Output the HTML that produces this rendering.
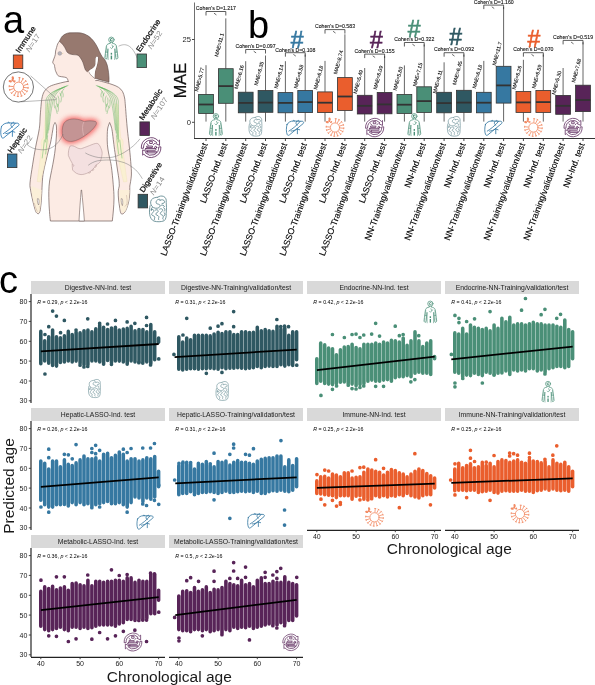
<!DOCTYPE html><html><head><meta charset="utf-8"><style>
html,body{margin:0;padding:0;background:#fff;}
svg{display:block;will-change:transform;}
text{font-family:"Liberation Sans", sans-serif;}
</style></head><body>
<svg width="595" height="685" viewBox="0 0 595 685">
<defs>
<symbol id="i-virus" viewBox="-10 -10 20 20" overflow="visible">
 <g fill="none" stroke="currentColor" stroke-width="0.8" stroke-linecap="round">
  <circle r="4.6"/>
  <path d="M5.18 0.45L8.77 0.77M8.71 1.36L8.82 0.17M4.61 2.40L7.81 4.06M7.53 4.60L8.08 3.53M3.34 3.98L5.66 6.74M5.20 7.13L6.12 6.36M1.56 4.96L2.65 8.39M2.07 8.57L3.22 8.21M-0.45 5.18L-0.77 8.77M-1.36 8.71L-0.17 8.82M-2.40 4.61L-4.06 7.81M-4.60 7.53L-3.53 8.08M-3.98 3.34L-6.74 5.66M-7.13 5.20L-6.36 6.12M-4.96 1.56L-8.39 2.65M-8.57 2.07L-8.21 3.22M-5.18 -0.45L-8.77 -0.77M-8.71 -1.36L-8.82 -0.17M0.45 -5.18L0.77 -8.77M1.36 -8.71L0.17 -8.82M2.40 -4.61L4.06 -7.81M4.60 -7.53L3.53 -8.08M3.98 -3.34L6.74 -5.66M7.13 -5.20L6.36 -6.12M4.96 -1.56L8.39 -2.65M8.57 -2.07L8.21 -3.22"/>
  <path d="M-4 -4.6L-5.6 -6.4" stroke-width="1"/>
  <g fill="currentColor" stroke="none"><ellipse cx="-5.4" cy="-8.4" rx="1.1" ry="1.6" transform="rotate(-15 -5.4 -8.4)"/><ellipse cx="-7.8" cy="-5.4" rx="1.6" ry="1.1" transform="rotate(20 -7.8 -5.4)"/><circle cx="-5.8" cy="-6.4" r="1"/><circle cx="-3.6" cy="-5.6" r="0.8"/></g>
 </g>
</symbol>
<symbol id="i-met" viewBox="-11 -11 22 22" overflow="visible">
 <g fill="none" stroke="currentColor" stroke-width="0.85" stroke-linejoin="round" stroke-linecap="round">
  <path d="M-10.29 0.36A10.3 10.3 0 0 1 7.65 -6.89L8.84 -7.96L8.84 -2.37L4.76 -4.28L5.95 -5.35A8.0 8.0 0 0 0 -8.00 0.28Z"/>
  <path d="M10.29 -0.36A10.3 10.3 0 0 1 -7.65 6.89L-8.84 7.96L-8.84 2.37L-4.76 4.28L-5.95 5.35A8.0 8.0 0 0 0 8.00 -0.28Z"/>
  <path d="M-5.4 0.9H4.2A0.9 0.9 0 0 1 4.2 2.7H-5.4A0.9 0.9 0 0 1 -5.4 0.9Z"/>
  <path d="M-3.6 3.9H5A0.8 0.8 0 0 1 5 5.5H-3.6A0.8 0.8 0 0 1 -3.6 3.9Z"/>
  <path d="M-4.2 -1.6H1.4V-0.2H-4.2Z M-1.1 -6.6H1.3V-4.3H-1.1Z M-4.6 -4.2L-2.8 -2.6M2.4 -3L3.6 -4.4"/>
  <circle cx="4.8" cy="-0.2" r="1.1"/>
 </g>
</symbol>
<symbol id="i-human" viewBox="0 0 16 26" overflow="visible">
 <g fill="none" stroke="currentColor" stroke-width="0.8" stroke-linejoin="round" stroke-linecap="round">
  <circle cx="8" cy="3.5" r="2.9"/>
  <path d="M8.9 2.5A1.25 1.25 0 1 0 8.9 4.5" stroke-width="1.1"/>
  <path d="M6.9 6.4V7.3C4.8 7.6 3.2 8.2 2.7 10C2.2 12.6 1.8 15.6 1.5 18.6L1 22.6C1.2 23.6 2 24.2 2.8 24L3.4 22.4L3.8 18L4.3 13.4"/>
  <path d="M9.1 6.4V7.3C11.2 7.6 12.8 8.2 13.3 10C13.8 12.6 14.2 15.6 14.5 18.6L15 22.6C14.8 23.6 14 24.2 13.2 24L12.6 22.4L12.2 18L11.7 13.4"/>
  <path d="M4.3 13.4L4.5 24.6M11.7 13.4L11.5 24.6M2.2 16.6L3.9 16.8M13.8 16.6L12.1 16.8" stroke-width="0.6"/>
  <path d="M8.6 9L9.6 11.2L8.2 13L7 11.8M9.6 11.2L10.4 10.2" stroke-width="0.65"/>
  <path d="M3 11L2.4 17M13 11L13.6 17M2 19L1.8 22M14 19L14.2 22" stroke-width="0.45"/>
  <rect x="7.25" y="17.4" width="1.5" height="1.9" fill="currentColor" stroke="none"/>
  <rect x="7.25" y="20.4" width="1.5" height="4" fill="currentColor" stroke="none"/>
 </g>
</symbol>
<symbol id="i-liver" viewBox="0 0 20 18" overflow="visible">
 <g fill="none" stroke="currentColor" stroke-width="0.9" stroke-linejoin="round" stroke-linecap="round">
  <path d="M1.3 5.5C2.6 3.2 5 2 8 1.9L17.6 2.2C18.8 2.6 19.2 3.6 18.4 4.6L3.8 16.6C2.8 17.4 1.8 17.2 1.4 16.2C0.3 13.6 0.2 9 1.3 5.5Z"/>
  <path d="M11.4 2.1C10.2 3.6 10.4 5.8 12.2 6.2M15.2 2.3C13.6 4.4 11.2 6.6 8.8 8.6C6.8 10.2 4.8 11.6 3.2 12.6"/>
  <path d="M7.6 1.9C7.6 0.8 9.2 0.8 9.2 1.9M12.4 2C12.4 0.9 14 0.9 14 2"/>
  <path d="M12.2 9.8V15.4M5.6 12.6C7.6 12.4 9.6 11.8 11.4 10.6M12.2 10.4L14.6 11.2"/>
 </g>
</symbol>
<symbol id="i-gut" viewBox="0 0 18 26.5" overflow="visible">
 <g fill="none" stroke="currentColor" stroke-width="0.8" stroke-linejoin="round" stroke-linecap="round">
  <path d="M8.6 1.4C10 0.2 12.5 -0.2 14.5 0.6C16.8 1.6 17.6 4 17.2 6.5C17.6 10 17.6 14 17.2 18C17.4 21 16.8 24.2 15 25.4C12 26.6 8 26.6 5 25.8C2.5 25 0.8 22 0.4 19C0 16 0.2 12 0.8 10"/>
  <path d="M8.6 1.4C6 1.6 3.6 2.2 2.2 4C0.8 6 1.2 9 2.8 10.8C4.6 12.8 7.6 13.2 9.8 12C11 11.2 11.4 9.8 10.4 9C9 8 7.4 8.6 7 7.2C6.6 5.6 7.6 4 9.6 3.6C10.6 3.2 11.4 3.8 11 4.6"/>
  <path d="M11 4.5C12.5 3.5 15 4 15.5 5.5C16 7 14.5 8 13 7.8M12 9.5C13.5 9 15 9.6 15.4 11"/>
  <path d="M2 14C3.5 13 5 14.5 4.5 16C4 17.5 2 17.5 2.4 19C2.8 20.5 5 20 5.6 21.5C6 23 4 24 5.5 24.6"/>
  <path d="M6 14.5C7.5 13.5 9.5 14.5 9 16C8.5 17.5 6.5 17 6.6 18.6C6.8 20 9 19.6 9.6 21C10.2 22.4 8.4 23.6 9.6 24.4"/>
  <path d="M10.5 13.5C12 12.5 14 13.5 13.6 15C13.2 16.5 11 16.4 11.2 18C11.4 19.6 13.8 19.2 14.2 20.6C14.6 22 12.8 23.2 14 24"/>
  <path d="M14.5 12C16 12.5 16.4 14.5 15.4 15.6M15 17C16.4 17.5 16.4 19.6 15.2 20.4M3 11.8C2 12.8 1.6 14 2 15"/>
 </g>
</symbol>
</defs>
<rect x="31" y="281" width="134" height="13" fill="#D9D9D9"/>
<text x="98" y="290.2" font-size="6.8" fill="#1A1A1A" text-anchor="middle">Digestive-NN-Ind. test</text>
<text x="37.3" y="304.3" font-size="5.3" fill="#000"><tspan font-style="italic">R</tspan> = 0.29, <tspan font-style="italic">p</tspan> &lt; 2.2e-16</text>
<path d="M40.8 331.4V363.8M44.7 340.8V360.9M48.7 336.8V363.2M52.6 330V365.4M56.5 336.8V366.1M60.4 337.9V362.5M64.4 335.9V362M68.3 331.4V360.9M72.2 334.5V362M76.1 332.3V361.1M80.1 332.9V363.2M84 330.7V364.7M87.9 330V364.7M91.9 331.8V360.9M95.8 328.7V360.9M99.7 325.1V362M103.6 327.3V364.3M107.6 329.6V360.5M111.5 328V362.7M115.4 327.3V360.9M119.3 330V361.1M123.3 329.1V362M127.2 328.4V364.3M131.1 326.2V360.9M135 330.7V362M139 329.6V362M142.9 329.6V361.6M146.8 331.8V362M150.8 324.6V363.4M154.7 331.8V359.8M158.6 338.1V342.2" stroke="#2F5862" stroke-width="3.56" stroke-linecap="round" fill="none"/>
<path d="M43.1 334.5a1.85 1.85 0 1 0 3.7 0a1.85 1.85 0 1 0 -3.7 0zM43.1 374a1.85 1.85 0 1 0 3.7 0a1.85 1.85 0 1 0 -3.7 0zM46.9 326.7a1.85 1.85 0 1 0 3.7 0a1.85 1.85 0 1 0 -3.7 0zM50.8 311.1a1.85 1.85 0 1 0 3.7 0a1.85 1.85 0 1 0 -3.7 0zM54.6 316.1a1.85 1.85 0 1 0 3.7 0a1.85 1.85 0 1 0 -3.7 0zM58.7 332.7a1.85 1.85 0 1 0 3.7 0a1.85 1.85 0 1 0 -3.7 0zM62.5 320.4a1.85 1.85 0 1 0 3.7 0a1.85 1.85 0 1 0 -3.7 0zM85.9 318.8a1.85 1.85 0 1 0 3.7 0a1.85 1.85 0 1 0 -3.7 0zM113.6 320.4a1.85 1.85 0 1 0 3.7 0a1.85 1.85 0 1 0 -3.7 0zM125.3 321.9a1.85 1.85 0 1 0 3.7 0a1.85 1.85 0 1 0 -3.7 0zM144.7 317.4a1.85 1.85 0 1 0 3.7 0a1.85 1.85 0 1 0 -3.7 0zM78.2 365.2a1.85 1.85 0 1 0 3.7 0a1.85 1.85 0 1 0 -3.7 0zM82.1 367a1.85 1.85 0 1 0 3.7 0a1.85 1.85 0 1 0 -3.7 0zM85.9 366.5a1.85 1.85 0 1 0 3.7 0a1.85 1.85 0 1 0 -3.7 0zM109.6 364.3a1.85 1.85 0 1 0 3.7 0a1.85 1.85 0 1 0 -3.7 0zM137 362.7a1.85 1.85 0 1 0 3.7 0a1.85 1.85 0 1 0 -3.7 0zM140.9 363.1a1.85 1.85 0 1 0 3.7 0a1.85 1.85 0 1 0 -3.7 0zM148.7 364.9a1.85 1.85 0 1 0 3.7 0a1.85 1.85 0 1 0 -3.7 0zM156.9 358.9a1.85 1.85 0 1 0 3.7 0a1.85 1.85 0 1 0 -3.7 0zM74.2 330a1.85 1.85 0 1 0 3.7 0a1.85 1.85 0 1 0 -3.7 0zM97.8 323.3a1.85 1.85 0 1 0 3.7 0a1.85 1.85 0 1 0 -3.7 0zM105.7 324a1.85 1.85 0 1 0 3.7 0a1.85 1.85 0 1 0 -3.7 0zM133 323.3a1.85 1.85 0 1 0 3.7 0a1.85 1.85 0 1 0 -3.7 0zM144.7 325.5a1.85 1.85 0 1 0 3.7 0a1.85 1.85 0 1 0 -3.7 0z" fill="#2F5862"/>
<line x1="40.9" y1="351.4" x2="158.7" y2="344" stroke="#000" stroke-width="1.8"/>
<line x1="31" y1="294" x2="31" y2="403" stroke="#111" stroke-width="1.1"/>
<line x1="28.8" y1="400.8" x2="31" y2="400.8" stroke="#333" stroke-width="0.9"/>
<text x="27.3" y="403.3" font-size="7" fill="#222" text-anchor="end">30</text>
<line x1="28.8" y1="381" x2="31" y2="381" stroke="#333" stroke-width="0.9"/>
<text x="27.3" y="383.5" font-size="7" fill="#222" text-anchor="end">40</text>
<line x1="28.8" y1="361.1" x2="31" y2="361.1" stroke="#333" stroke-width="0.9"/>
<text x="27.3" y="363.6" font-size="7" fill="#222" text-anchor="end">50</text>
<line x1="28.8" y1="341.3" x2="31" y2="341.3" stroke="#333" stroke-width="0.9"/>
<text x="27.3" y="343.8" font-size="7" fill="#222" text-anchor="end">60</text>
<line x1="28.8" y1="321.4" x2="31" y2="321.4" stroke="#333" stroke-width="0.9"/>
<text x="27.3" y="323.9" font-size="7" fill="#222" text-anchor="end">70</text>
<line x1="28.8" y1="301.6" x2="31" y2="301.6" stroke="#333" stroke-width="0.9"/>
<text x="27.3" y="304.1" font-size="7" fill="#222" text-anchor="end">80</text>
<rect x="169" y="281" width="134" height="13" fill="#D9D9D9"/>
<text x="236" y="290.2" font-size="6.8" fill="#1A1A1A" text-anchor="middle">Digestive-NN-Training/validation/test</text>
<text x="175.3" y="304.3" font-size="5.3" fill="#000"><tspan font-style="italic">R</tspan> = 0.31, <tspan font-style="italic">p</tspan> &lt; 2.2e-16</text>
<path d="M178.8 336.8V369.2M182.7 342V369.9M186.7 338.1V369.2M190.6 339.7V368.8M194.5 335.2V368.8M198.4 335.2V369.2M202.4 335.2V368.8M206.3 335.2V368.8M210.2 335.9V368.3M214.1 334.1V368.8M218.1 332.3V369.2M222 333.6V367.7M225.9 331.8V368.8M229.9 331.8V368.3M233.8 334.5V368.3M237.7 334.5V367.7M241.6 331.8V368.3M245.6 331.8V368.8M249.5 332.5V368.3M253.4 332.3V367.7M257.3 327.3V366.5M261.3 330.7V367.7M265.2 329.6V366.5M269.1 330.7V366.1M273 331.4V366.5M277 326.2V366.5M280.9 329.1V364.7M284.8 328V366.1M288.8 335.2V364.7M292.7 331.8V365.4M296.6 331.8V359.8" stroke="#2F5862" stroke-width="3.56" stroke-linecap="round" fill="none"/>
<path d="M181.1 335a1.85 1.85 0 1 0 3.7 0a1.85 1.85 0 1 0 -3.7 0zM204.5 373.3a1.85 1.85 0 1 0 3.7 0a1.85 1.85 0 1 0 -3.7 0zM208.4 328.2a1.85 1.85 0 1 0 3.7 0a1.85 1.85 0 1 0 -3.7 0zM216.2 326.2a1.85 1.85 0 1 0 3.7 0a1.85 1.85 0 1 0 -3.7 0zM220.1 323.7a1.85 1.85 0 1 0 3.7 0a1.85 1.85 0 1 0 -3.7 0zM220.1 372.4a1.85 1.85 0 1 0 3.7 0a1.85 1.85 0 1 0 -3.7 0zM231.8 326.7a1.85 1.85 0 1 0 3.7 0a1.85 1.85 0 1 0 -3.7 0zM231.8 311.6a1.85 1.85 0 1 0 3.7 0a1.85 1.85 0 1 0 -3.7 0zM275 319.5a1.85 1.85 0 1 0 3.7 0a1.85 1.85 0 1 0 -3.7 0zM294.9 365.2a1.85 1.85 0 1 0 3.7 0a1.85 1.85 0 1 0 -3.7 0zM172.1 354.4a1.85 1.85 0 1 0 3.7 0a1.85 1.85 0 1 0 -3.7 0zM184.9 318.3a1.85 1.85 0 1 0 3.7 0a1.85 1.85 0 1 0 -3.7 0zM278.9 326.7a1.85 1.85 0 1 0 3.7 0a1.85 1.85 0 1 0 -3.7 0zM282.7 326.2a1.85 1.85 0 1 0 3.7 0a1.85 1.85 0 1 0 -3.7 0zM286.7 326.7a1.85 1.85 0 1 0 3.7 0a1.85 1.85 0 1 0 -3.7 0z" fill="#2F5862"/>
<line x1="174.6" y1="357.1" x2="296.7" y2="349.6" stroke="#000" stroke-width="1.8"/>
<rect x="307" y="281" width="134" height="13" fill="#D9D9D9"/>
<text x="374" y="290.2" font-size="6.8" fill="#1A1A1A" text-anchor="middle">Endocrine-NN-Ind. test</text>
<text x="313.3" y="304.3" font-size="5.3" fill="#000"><tspan font-style="italic">R</tspan> = 0.42, <tspan font-style="italic">p</tspan> &lt; 2.2e-16</text>
<path d="M316.8 358.8V383.4M320.7 343.1V381.2M324.7 344.9V383.4M328.6 348V384.1M332.5 348.7V384.6M336.4 354.8V383.4M340.4 349.8V382.3M344.3 347.1V381.9M348.2 346.5V383.4M352.1 344.2V384.1M356.1 347.6V385.7M360 348.7V384.6M363.9 344.2V383.4M367.9 344.2V381.2M371.8 344.2V380.1M375.7 343.1V381.2M379.6 344.2V381.2M383.6 342V380.1M387.5 343.1V379.6M391.4 340.4V381.2M395.3 340.8V377.8M399.3 342V376.7M403.2 338.1V376.7M407.1 345.3V375.6M411 340.8V376.7M415 331.8V373.3M418.9 340.8V372.2M422.8 346.5V373.3M426.8 343.1V373.3M430.7 340.8V374.4M434.6 356.6V358.7" stroke="#4A8F77" stroke-width="3.56" stroke-linecap="round" fill="none"/>
<path d="M319.1 395.4a1.85 1.85 0 1 0 3.7 0a1.85 1.85 0 1 0 -3.7 0zM330.6 334.5a1.85 1.85 0 1 0 3.7 0a1.85 1.85 0 1 0 -3.7 0zM330.6 389.3a1.85 1.85 0 1 0 3.7 0a1.85 1.85 0 1 0 -3.7 0zM342.5 337.5a1.85 1.85 0 1 0 3.7 0a1.85 1.85 0 1 0 -3.7 0zM350.2 334.5a1.85 1.85 0 1 0 3.7 0a1.85 1.85 0 1 0 -3.7 0zM354.2 334.1a1.85 1.85 0 1 0 3.7 0a1.85 1.85 0 1 0 -3.7 0zM358.1 337.5a1.85 1.85 0 1 0 3.7 0a1.85 1.85 0 1 0 -3.7 0zM361.9 335a1.85 1.85 0 1 0 3.7 0a1.85 1.85 0 1 0 -3.7 0zM369.8 334.1a1.85 1.85 0 1 0 3.7 0a1.85 1.85 0 1 0 -3.7 0zM373.8 323.3a1.85 1.85 0 1 0 3.7 0a1.85 1.85 0 1 0 -3.7 0zM373.8 386.3a1.85 1.85 0 1 0 3.7 0a1.85 1.85 0 1 0 -3.7 0zM377.7 336.1a1.85 1.85 0 1 0 3.7 0a1.85 1.85 0 1 0 -3.7 0zM381.7 386.3a1.85 1.85 0 1 0 3.7 0a1.85 1.85 0 1 0 -3.7 0zM393.4 326.2a1.85 1.85 0 1 0 3.7 0a1.85 1.85 0 1 0 -3.7 0zM397.5 335.7a1.85 1.85 0 1 0 3.7 0a1.85 1.85 0 1 0 -3.7 0zM409 381.8a1.85 1.85 0 1 0 3.7 0a1.85 1.85 0 1 0 -3.7 0zM413 379.6a1.85 1.85 0 1 0 3.7 0a1.85 1.85 0 1 0 -3.7 0zM401.3 334.5a1.85 1.85 0 1 0 3.7 0a1.85 1.85 0 1 0 -3.7 0zM416.9 335.7a1.85 1.85 0 1 0 3.7 0a1.85 1.85 0 1 0 -3.7 0zM350.2 388.6a1.85 1.85 0 1 0 3.7 0a1.85 1.85 0 1 0 -3.7 0zM354.2 389a1.85 1.85 0 1 0 3.7 0a1.85 1.85 0 1 0 -3.7 0zM358.1 387.5a1.85 1.85 0 1 0 3.7 0a1.85 1.85 0 1 0 -3.7 0zM361.9 385.9a1.85 1.85 0 1 0 3.7 0a1.85 1.85 0 1 0 -3.7 0zM334.7 385.9a1.85 1.85 0 1 0 3.7 0a1.85 1.85 0 1 0 -3.7 0zM346.4 385.2a1.85 1.85 0 1 0 3.7 0a1.85 1.85 0 1 0 -3.7 0z" fill="#4A8F77"/>
<line x1="316.9" y1="370.1" x2="434.7" y2="356.6" stroke="#000" stroke-width="1.8"/>
<rect x="445" y="281" width="134" height="13" fill="#D9D9D9"/>
<text x="512" y="290.2" font-size="6.8" fill="#1A1A1A" text-anchor="middle">Endocrine-NN-Training/validation/test</text>
<text x="451.3" y="304.3" font-size="5.3" fill="#000"><tspan font-style="italic">R</tspan> = 0.41, <tspan font-style="italic">p</tspan> &lt; 2.2e-16</text>
<path d="M454.8 332.9V372.2M458.7 334.1V373.3M462.7 328.4V376.7M466.6 334.1V375.1M470.5 325.1V375.6M474.4 327.3V373.3M478.4 328.4V374.4M482.3 329.6V375.6M486.2 328.4V372.2M490.1 330.7V373.3M494.1 325.1V374.4M498 328.4V373.3M501.9 318.3V372.9M505.9 321.7V371M509.8 317.2V374.4M513.7 325.1V369.9M517.6 323.9V371M521.6 323.9V369.9M525.5 325.1V371M529.4 323.9V368.8M533.3 322.4V368.8M537.3 323.9V371M541.2 323.9V369.9M545.1 325.1V372.2M549 325.1V368.8M553 325.1V367.7M556.9 326.2V366.5M560.8 327.3V366.5M564.8 320.1V367.7M568.7 329.6V366.5M572.6 331.8V358.7" stroke="#4A8F77" stroke-width="3.56" stroke-linecap="round" fill="none"/>
<path d="M453.1 315.4a1.85 1.85 0 1 0 3.7 0a1.85 1.85 0 1 0 -3.7 0zM453.1 383a1.85 1.85 0 1 0 3.7 0a1.85 1.85 0 1 0 -3.7 0zM453.1 386.8a1.85 1.85 0 1 0 3.7 0a1.85 1.85 0 1 0 -3.7 0zM457.1 318.3a1.85 1.85 0 1 0 3.7 0a1.85 1.85 0 1 0 -3.7 0zM457.1 322.6a1.85 1.85 0 1 0 3.7 0a1.85 1.85 0 1 0 -3.7 0zM464.8 321.5a1.85 1.85 0 1 0 3.7 0a1.85 1.85 0 1 0 -3.7 0zM472.7 318.8a1.85 1.85 0 1 0 3.7 0a1.85 1.85 0 1 0 -3.7 0zM480.5 383a1.85 1.85 0 1 0 3.7 0a1.85 1.85 0 1 0 -3.7 0zM488.2 311.6a1.85 1.85 0 1 0 3.7 0a1.85 1.85 0 1 0 -3.7 0zM519.7 310.2a1.85 1.85 0 1 0 3.7 0a1.85 1.85 0 1 0 -3.7 0zM523.6 298.5a1.85 1.85 0 1 0 3.7 0a1.85 1.85 0 1 0 -3.7 0zM539.3 314.7a1.85 1.85 0 1 0 3.7 0a1.85 1.85 0 1 0 -3.7 0zM543.1 309.3a1.85 1.85 0 1 0 3.7 0a1.85 1.85 0 1 0 -3.7 0zM554.9 318.3a1.85 1.85 0 1 0 3.7 0a1.85 1.85 0 1 0 -3.7 0zM558.7 314.3a1.85 1.85 0 1 0 3.7 0a1.85 1.85 0 1 0 -3.7 0zM449.5 354.4a1.85 1.85 0 1 0 3.7 0a1.85 1.85 0 1 0 -3.7 0zM460.9 378.5a1.85 1.85 0 1 0 3.7 0a1.85 1.85 0 1 0 -3.7 0zM492.2 375.1a1.85 1.85 0 1 0 3.7 0a1.85 1.85 0 1 0 -3.7 0zM543.1 374a1.85 1.85 0 1 0 3.7 0a1.85 1.85 0 1 0 -3.7 0z" fill="#4A8F77"/>
<line x1="451.3" y1="359.3" x2="572.7" y2="346.7" stroke="#000" stroke-width="1.8"/>
<rect x="31" y="408" width="134" height="13" fill="#D9D9D9"/>
<text x="98" y="417.2" font-size="6.8" fill="#1A1A1A" text-anchor="middle">Hepatic-LASSO-Ind. test</text>
<text x="37.3" y="431.3" font-size="5.3" fill="#000"><tspan font-style="italic">R</tspan> = 0.26, <tspan font-style="italic">p</tspan> &lt; 2.2e-16</text>
<path d="M40.8 461.1V500.3M44.7 463.3V504.8M48.7 469V507.1M52.6 461.1V507.1M56.5 461.1V504.8M60.4 466.7V504.8M64.4 459.9V504.4M68.3 464.4V505.9M72.2 465.6V502.6M76.1 462.9V504.8M80.1 459.9V502.6M84 456.1V504.8M87.9 458.8V503.7M91.9 458.8V505.9M95.8 457.7V504.8M99.7 461.1V503.7M103.6 454.3V502.6M107.6 453.2V501.4M111.5 457.7V503.7M115.4 455.4V503.7M119.3 452.1V502.6M123.3 454.3V504.8M127.2 461.1V507.1M131.1 458.8V502.6M135 458.8V496.9M139 461.1V498M142.9 459.9V501.4M146.8 457.7V498M150.8 458.8V499.2M154.7 456.6V496.9M158.6 471.2V486.8" stroke="#3678A1" stroke-width="3.56" stroke-linecap="round" fill="none"/>
<path d="M39.1 507a1.85 1.85 0 1 0 3.7 0a1.85 1.85 0 1 0 -3.7 0zM46.9 449.2a1.85 1.85 0 1 0 3.7 0a1.85 1.85 0 1 0 -3.7 0zM46.9 457.7a1.85 1.85 0 1 0 3.7 0a1.85 1.85 0 1 0 -3.7 0zM46.9 512.2a1.85 1.85 0 1 0 3.7 0a1.85 1.85 0 1 0 -3.7 0zM62.5 454.3a1.85 1.85 0 1 0 3.7 0a1.85 1.85 0 1 0 -3.7 0zM66.5 454.8a1.85 1.85 0 1 0 3.7 0a1.85 1.85 0 1 0 -3.7 0zM70.4 458.8a1.85 1.85 0 1 0 3.7 0a1.85 1.85 0 1 0 -3.7 0zM74.2 444.6a1.85 1.85 0 1 0 3.7 0a1.85 1.85 0 1 0 -3.7 0zM90 448.5a1.85 1.85 0 1 0 3.7 0a1.85 1.85 0 1 0 -3.7 0zM90 452.5a1.85 1.85 0 1 0 3.7 0a1.85 1.85 0 1 0 -3.7 0zM93.8 445.3a1.85 1.85 0 1 0 3.7 0a1.85 1.85 0 1 0 -3.7 0zM93.8 453.7a1.85 1.85 0 1 0 3.7 0a1.85 1.85 0 1 0 -3.7 0zM97.8 450.3a1.85 1.85 0 1 0 3.7 0a1.85 1.85 0 1 0 -3.7 0zM121.5 449.2a1.85 1.85 0 1 0 3.7 0a1.85 1.85 0 1 0 -3.7 0zM125.3 452.5a1.85 1.85 0 1 0 3.7 0a1.85 1.85 0 1 0 -3.7 0zM125.3 512.2a1.85 1.85 0 1 0 3.7 0a1.85 1.85 0 1 0 -3.7 0zM129.2 448.5a1.85 1.85 0 1 0 3.7 0a1.85 1.85 0 1 0 -3.7 0zM140.9 448a1.85 1.85 0 1 0 3.7 0a1.85 1.85 0 1 0 -3.7 0zM144.7 505.5a1.85 1.85 0 1 0 3.7 0a1.85 1.85 0 1 0 -3.7 0zM148.7 448a1.85 1.85 0 1 0 3.7 0a1.85 1.85 0 1 0 -3.7 0zM152.6 443.5a1.85 1.85 0 1 0 3.7 0a1.85 1.85 0 1 0 -3.7 0zM152.6 500.3a1.85 1.85 0 1 0 3.7 0a1.85 1.85 0 1 0 -3.7 0zM156.9 504.3a1.85 1.85 0 1 0 3.7 0a1.85 1.85 0 1 0 -3.7 0zM156.9 485.2a1.85 1.85 0 1 0 3.7 0a1.85 1.85 0 1 0 -3.7 0zM90 507.7a1.85 1.85 0 1 0 3.7 0a1.85 1.85 0 1 0 -3.7 0zM97.8 507a1.85 1.85 0 1 0 3.7 0a1.85 1.85 0 1 0 -3.7 0zM140.9 503.9a1.85 1.85 0 1 0 3.7 0a1.85 1.85 0 1 0 -3.7 0z" fill="#3678A1"/>
<line x1="40.9" y1="486.8" x2="158.7" y2="477.3" stroke="#000" stroke-width="1.8"/>
<line x1="31" y1="421" x2="31" y2="530" stroke="#111" stroke-width="1.1"/>
<line x1="28.8" y1="527.8" x2="31" y2="527.8" stroke="#333" stroke-width="0.9"/>
<text x="27.3" y="530.3" font-size="7" fill="#222" text-anchor="end">30</text>
<line x1="28.8" y1="508" x2="31" y2="508" stroke="#333" stroke-width="0.9"/>
<text x="27.3" y="510.5" font-size="7" fill="#222" text-anchor="end">40</text>
<line x1="28.8" y1="488.1" x2="31" y2="488.1" stroke="#333" stroke-width="0.9"/>
<text x="27.3" y="490.6" font-size="7" fill="#222" text-anchor="end">50</text>
<line x1="28.8" y1="468.3" x2="31" y2="468.3" stroke="#333" stroke-width="0.9"/>
<text x="27.3" y="470.8" font-size="7" fill="#222" text-anchor="end">60</text>
<line x1="28.8" y1="448.4" x2="31" y2="448.4" stroke="#333" stroke-width="0.9"/>
<text x="27.3" y="450.9" font-size="7" fill="#222" text-anchor="end">70</text>
<line x1="28.8" y1="428.6" x2="31" y2="428.6" stroke="#333" stroke-width="0.9"/>
<text x="27.3" y="431.1" font-size="7" fill="#222" text-anchor="end">80</text>
<rect x="169" y="408" width="134" height="13" fill="#D9D9D9"/>
<text x="236" y="417.2" font-size="6.8" fill="#1A1A1A" text-anchor="middle">Hepatic-LASSO-Training/validation/test</text>
<text x="175.3" y="431.3" font-size="5.3" fill="#000"><tspan font-style="italic">R</tspan> = 0.31, <tspan font-style="italic">p</tspan> &lt; 2.2e-16</text>
<path d="M178.8 465.6V494.7M182.7 463.3V493.5M186.7 462.2V493.5M190.6 464.4V491.7M194.5 469V494.7M198.4 463.3V493.5M202.4 464.4V492.4M206.3 461.5V492.4M210.2 465.6V491.7M214.1 466.7V492.4M218.1 461.5V493.5M222 462.2V492.4M225.9 461.1V491.3M229.9 465.1V492.4M233.8 462.2V492.4M237.7 460.6V491.7M241.6 462.2V491.3M245.6 462.2V491.7M249.5 463.3V491.3M253.4 464.4V492.4M257.3 461.1V491.3M261.3 459.3V493.5M265.2 458.4V493.5M269.1 457.7V491.7M273 457.7V490.8M277 456.1V491.3M280.9 456.1V490.2M284.8 466.7V491.3M288.8 459.9V491.7M292.7 465.6V490.2M296.6 458.8V486.8" stroke="#3678A1" stroke-width="3.56" stroke-linecap="round" fill="none"/>
<path d="M212.2 453.2a1.85 1.85 0 1 0 3.7 0a1.85 1.85 0 1 0 -3.7 0zM212.2 499.8a1.85 1.85 0 1 0 3.7 0a1.85 1.85 0 1 0 -3.7 0zM228 454.3a1.85 1.85 0 1 0 3.7 0a1.85 1.85 0 1 0 -3.7 0zM231.8 444.2a1.85 1.85 0 1 0 3.7 0a1.85 1.85 0 1 0 -3.7 0zM231.8 448a1.85 1.85 0 1 0 3.7 0a1.85 1.85 0 1 0 -3.7 0zM243.7 454.3a1.85 1.85 0 1 0 3.7 0a1.85 1.85 0 1 0 -3.7 0zM247.6 455.2a1.85 1.85 0 1 0 3.7 0a1.85 1.85 0 1 0 -3.7 0zM251.6 448.7a1.85 1.85 0 1 0 3.7 0a1.85 1.85 0 1 0 -3.7 0zM282.7 510a1.85 1.85 0 1 0 3.7 0a1.85 1.85 0 1 0 -3.7 0zM282.7 525.1a1.85 1.85 0 1 0 3.7 0a1.85 1.85 0 1 0 -3.7 0zM228 518.3a1.85 1.85 0 1 0 3.7 0a1.85 1.85 0 1 0 -3.7 0zM279.1 440.6a1.85 1.85 0 1 0 3.7 0a1.85 1.85 0 1 0 -3.7 0zM172.8 480a1.85 1.85 0 1 0 3.7 0a1.85 1.85 0 1 0 -3.7 0zM177.1 463.3a1.85 1.85 0 1 0 3.7 0a1.85 1.85 0 1 0 -3.7 0zM181.1 462.2a1.85 1.85 0 1 0 3.7 0a1.85 1.85 0 1 0 -3.7 0zM188.8 462.7a1.85 1.85 0 1 0 3.7 0a1.85 1.85 0 1 0 -3.7 0zM208.4 463.8a1.85 1.85 0 1 0 3.7 0a1.85 1.85 0 1 0 -3.7 0z" fill="#3678A1"/>
<line x1="175.3" y1="483.4" x2="296.7" y2="477.3" stroke="#000" stroke-width="1.8"/>
<rect x="307" y="408" width="134" height="13" fill="#D9D9D9"/>
<text x="374" y="417.2" font-size="6.8" fill="#1A1A1A" text-anchor="middle">Immune-NN-Ind. test</text>
<text x="313.3" y="431.3" font-size="5.3" fill="#000"><tspan font-style="italic">R</tspan> = 0.25, <tspan font-style="italic">p</tspan> &lt; 2.2e-16</text>
<path d="M316.8 480.9V493.5M320.7 476.8V494M324.7 476.4V494.7M328.6 478V495.3M332.5 474.1V495.8M336.4 475V497.6M340.4 476.8V495.8M344.3 472.8V495.8M348.2 472.8V495.8M352.1 478V499.2M356.1 477.3V496.2M360 476.8V495.8M363.9 472.3V499.2M367.9 469V498M371.8 470.1V496.9M375.7 471.2V495.8M379.6 472.3V496.9M383.6 475V495.8M387.5 472.3V496.9M391.4 469.6V495.8M395.3 470.5V496.2M399.3 472.8V494.7M403.2 474.1V495.8M407.1 476.8V493.5M411 474.1V495.8M415 471.2V496.9M418.9 469V498M422.8 470.5V495.8M426.8 473.5V494.7M430.7 475.7V494.7M434.6 478V487.9" stroke="#EA5E2D" stroke-width="3.56" stroke-linecap="round" fill="none"/>
<path d="M315.1 474.6a1.85 1.85 0 1 0 3.7 0a1.85 1.85 0 1 0 -3.7 0zM319.1 499.2a1.85 1.85 0 1 0 3.7 0a1.85 1.85 0 1 0 -3.7 0zM322.9 470.1a1.85 1.85 0 1 0 3.7 0a1.85 1.85 0 1 0 -3.7 0zM322.9 504.8a1.85 1.85 0 1 0 3.7 0a1.85 1.85 0 1 0 -3.7 0zM326.8 471a1.85 1.85 0 1 0 3.7 0a1.85 1.85 0 1 0 -3.7 0zM330.6 500.3a1.85 1.85 0 1 0 3.7 0a1.85 1.85 0 1 0 -3.7 0zM334.7 506.1a1.85 1.85 0 1 0 3.7 0a1.85 1.85 0 1 0 -3.7 0zM338.5 502.5a1.85 1.85 0 1 0 3.7 0a1.85 1.85 0 1 0 -3.7 0zM350.2 471a1.85 1.85 0 1 0 3.7 0a1.85 1.85 0 1 0 -3.7 0zM358.1 467.6a1.85 1.85 0 1 0 3.7 0a1.85 1.85 0 1 0 -3.7 0zM358.1 499.8a1.85 1.85 0 1 0 3.7 0a1.85 1.85 0 1 0 -3.7 0zM361.9 467.2a1.85 1.85 0 1 0 3.7 0a1.85 1.85 0 1 0 -3.7 0zM369.8 498.7a1.85 1.85 0 1 0 3.7 0a1.85 1.85 0 1 0 -3.7 0zM373.8 459.7a1.85 1.85 0 1 0 3.7 0a1.85 1.85 0 1 0 -3.7 0zM381.7 468.3a1.85 1.85 0 1 0 3.7 0a1.85 1.85 0 1 0 -3.7 0zM397.5 507.7a1.85 1.85 0 1 0 3.7 0a1.85 1.85 0 1 0 -3.7 0zM413 453.7a1.85 1.85 0 1 0 3.7 0a1.85 1.85 0 1 0 -3.7 0zM428.6 504.8a1.85 1.85 0 1 0 3.7 0a1.85 1.85 0 1 0 -3.7 0zM366 499.8a1.85 1.85 0 1 0 3.7 0a1.85 1.85 0 1 0 -3.7 0zM338.5 504.3a1.85 1.85 0 1 0 3.7 0a1.85 1.85 0 1 0 -3.7 0z" fill="#EA5E2D"/>
<line x1="316.9" y1="487.9" x2="434.7" y2="483.6" stroke="#000" stroke-width="1.8"/>
<line x1="307" y1="530.45" x2="441" y2="530.45" stroke="#222" stroke-width="1.2"/>
<line x1="316.8" y1="530" x2="316.8" y2="532.2" stroke="#333" stroke-width="0.9"/>
<text x="316.8" y="539" font-size="7" fill="#222" text-anchor="middle">40</text>
<line x1="356.1" y1="530" x2="356.1" y2="532.2" stroke="#333" stroke-width="0.9"/>
<text x="356.1" y="539" font-size="7" fill="#222" text-anchor="middle">50</text>
<line x1="395.3" y1="530" x2="395.3" y2="532.2" stroke="#333" stroke-width="0.9"/>
<text x="395.3" y="539" font-size="7" fill="#222" text-anchor="middle">60</text>
<line x1="434.6" y1="530" x2="434.6" y2="532.2" stroke="#333" stroke-width="0.9"/>
<text x="434.6" y="539" font-size="7" fill="#222" text-anchor="middle">70</text>
<rect x="445" y="408" width="134" height="13" fill="#D9D9D9"/>
<text x="512" y="417.2" font-size="6.8" fill="#1A1A1A" text-anchor="middle">Immune-NN-Training/validation/test</text>
<text x="451.3" y="431.3" font-size="5.3" fill="#000"><tspan font-style="italic">R</tspan> = 0.25, <tspan font-style="italic">p</tspan> &lt; 2.2e-16</text>
<path d="M454.8 469V490.8M458.7 463.3V490.2M462.7 467.8V490.2M466.6 465.6V490.8M470.5 463.8V490.2M474.4 467.8V490.2M478.4 466.7V492.4M482.3 462.2V491.7M486.2 465.6V491.3M490.1 463.3V490.2M494.1 466.7V492.4M498 461.5V493.1M501.9 459.9V491.3M505.9 460.6V490.8M509.8 462.2V491.3M513.7 461.1V491.3M517.6 459.9V491.3M521.6 462.2V490.2M525.5 463.3V491.3M529.4 459.9V491.3M533.3 461.1V492.4M537.3 461.5V490.8M541.2 462.9V490.2M545.1 461.5V489M549 466.7V490.2M553 459.9V489M556.9 463.3V490.2M560.8 464.4V490.8M564.8 462.2V490.2M568.7 466.7V491.3M572.6 471.2V486.8" stroke="#EA5E2D" stroke-width="3.56" stroke-linecap="round" fill="none"/>
<path d="M453.1 463.8a1.85 1.85 0 1 0 3.7 0a1.85 1.85 0 1 0 -3.7 0zM453.1 494.9a1.85 1.85 0 1 0 3.7 0a1.85 1.85 0 1 0 -3.7 0zM464.8 497.6a1.85 1.85 0 1 0 3.7 0a1.85 1.85 0 1 0 -3.7 0zM468.6 450.3a1.85 1.85 0 1 0 3.7 0a1.85 1.85 0 1 0 -3.7 0zM468.6 458.2a1.85 1.85 0 1 0 3.7 0a1.85 1.85 0 1 0 -3.7 0zM472.7 461.5a1.85 1.85 0 1 0 3.7 0a1.85 1.85 0 1 0 -3.7 0zM484.4 462.2a1.85 1.85 0 1 0 3.7 0a1.85 1.85 0 1 0 -3.7 0zM488.2 500.3a1.85 1.85 0 1 0 3.7 0a1.85 1.85 0 1 0 -3.7 0zM492.2 455.5a1.85 1.85 0 1 0 3.7 0a1.85 1.85 0 1 0 -3.7 0zM507.8 453a1.85 1.85 0 1 0 3.7 0a1.85 1.85 0 1 0 -3.7 0zM507.8 455.9a1.85 1.85 0 1 0 3.7 0a1.85 1.85 0 1 0 -3.7 0zM511.8 453.7a1.85 1.85 0 1 0 3.7 0a1.85 1.85 0 1 0 -3.7 0zM515.7 455.2a1.85 1.85 0 1 0 3.7 0a1.85 1.85 0 1 0 -3.7 0zM527.6 453.2a1.85 1.85 0 1 0 3.7 0a1.85 1.85 0 1 0 -3.7 0zM527.6 457.5a1.85 1.85 0 1 0 3.7 0a1.85 1.85 0 1 0 -3.7 0zM543.1 459.3a1.85 1.85 0 1 0 3.7 0a1.85 1.85 0 1 0 -3.7 0zM551 455.2a1.85 1.85 0 1 0 3.7 0a1.85 1.85 0 1 0 -3.7 0zM554.9 445.8a1.85 1.85 0 1 0 3.7 0a1.85 1.85 0 1 0 -3.7 0zM448.8 480a1.85 1.85 0 1 0 3.7 0a1.85 1.85 0 1 0 -3.7 0z" fill="#EA5E2D"/>
<line x1="451.3" y1="482.9" x2="572.7" y2="478.4" stroke="#000" stroke-width="1.8"/>
<line x1="445" y1="530.45" x2="579" y2="530.45" stroke="#222" stroke-width="1.2"/>
<line x1="454.8" y1="530" x2="454.8" y2="532.2" stroke="#333" stroke-width="0.9"/>
<text x="454.8" y="539" font-size="7" fill="#222" text-anchor="middle">40</text>
<line x1="494.1" y1="530" x2="494.1" y2="532.2" stroke="#333" stroke-width="0.9"/>
<text x="494.1" y="539" font-size="7" fill="#222" text-anchor="middle">50</text>
<line x1="533.3" y1="530" x2="533.3" y2="532.2" stroke="#333" stroke-width="0.9"/>
<text x="533.3" y="539" font-size="7" fill="#222" text-anchor="middle">60</text>
<line x1="572.6" y1="530" x2="572.6" y2="532.2" stroke="#333" stroke-width="0.9"/>
<text x="572.6" y="539" font-size="7" fill="#222" text-anchor="middle">70</text>
<rect x="31" y="535" width="134" height="13" fill="#D9D9D9"/>
<text x="98" y="544.2" font-size="6.8" fill="#1A1A1A" text-anchor="middle">Metabolic-LASSO-Ind. test</text>
<text x="37.3" y="558.3" font-size="5.3" fill="#000"><tspan font-style="italic">R</tspan> = 0.36, <tspan font-style="italic">p</tspan> &lt; 2.2e-16</text>
<path d="M40.8 591.4V626.2M44.7 586.9V629.6M48.7 588.5V630.7M52.6 586.3V629.6M56.5 589.9V628.4M60.4 588.1V627.3M64.4 586.9V629.6M68.3 590.3V630.7M72.2 583.6V627.3M76.1 583.1V627.3M80.1 584.7V628.4M84 585.8V627.3M87.9 580.2V628.4M91.9 585.8V627.8M95.8 581.3V626.2M99.7 581.3V625M103.6 582.4V625M107.6 581.3V625M111.5 581.3V625M115.4 580.2V626.2M119.3 580.2V623.9M123.3 581.3V622.8M127.2 577.9V619.4M131.1 577.9V619.4M135 582.4V620.5M139 580.2V618.7M142.9 581.3V618.7M146.8 581.3V618.3M150.8 574.6V613.8M154.7 574.6V613.8M158.6 590.3V600.3" stroke="#582458" stroke-width="3.56" stroke-linecap="round" fill="none"/>
<path d="M39.1 580.2a1.85 1.85 0 1 0 3.7 0a1.85 1.85 0 1 0 -3.7 0zM46.9 635.8a1.85 1.85 0 1 0 3.7 0a1.85 1.85 0 1 0 -3.7 0zM54.6 576.8a1.85 1.85 0 1 0 3.7 0a1.85 1.85 0 1 0 -3.7 0zM54.6 636.3a1.85 1.85 0 1 0 3.7 0a1.85 1.85 0 1 0 -3.7 0zM62.5 576.8a1.85 1.85 0 1 0 3.7 0a1.85 1.85 0 1 0 -3.7 0zM66.5 641.5a1.85 1.85 0 1 0 3.7 0a1.85 1.85 0 1 0 -3.7 0zM74.2 638.8a1.85 1.85 0 1 0 3.7 0a1.85 1.85 0 1 0 -3.7 0zM85.9 575a1.85 1.85 0 1 0 3.7 0a1.85 1.85 0 1 0 -3.7 0zM90 639.2a1.85 1.85 0 1 0 3.7 0a1.85 1.85 0 1 0 -3.7 0zM97.8 632.5a1.85 1.85 0 1 0 3.7 0a1.85 1.85 0 1 0 -3.7 0zM105.7 638.8a1.85 1.85 0 1 0 3.7 0a1.85 1.85 0 1 0 -3.7 0zM109.6 569.8a1.85 1.85 0 1 0 3.7 0a1.85 1.85 0 1 0 -3.7 0zM113.6 635.8a1.85 1.85 0 1 0 3.7 0a1.85 1.85 0 1 0 -3.7 0zM117.4 575.5a1.85 1.85 0 1 0 3.7 0a1.85 1.85 0 1 0 -3.7 0zM121.5 631.3a1.85 1.85 0 1 0 3.7 0a1.85 1.85 0 1 0 -3.7 0zM133 630.2a1.85 1.85 0 1 0 3.7 0a1.85 1.85 0 1 0 -3.7 0zM144.7 641.5a1.85 1.85 0 1 0 3.7 0a1.85 1.85 0 1 0 -3.7 0zM156.9 612.2a1.85 1.85 0 1 0 3.7 0a1.85 1.85 0 1 0 -3.7 0zM125.3 574.6a1.85 1.85 0 1 0 3.7 0a1.85 1.85 0 1 0 -3.7 0zM148.7 573.2a1.85 1.85 0 1 0 3.7 0a1.85 1.85 0 1 0 -3.7 0zM152.6 573.9a1.85 1.85 0 1 0 3.7 0a1.85 1.85 0 1 0 -3.7 0zM137 620.5a1.85 1.85 0 1 0 3.7 0a1.85 1.85 0 1 0 -3.7 0zM140.9 620.1a1.85 1.85 0 1 0 3.7 0a1.85 1.85 0 1 0 -3.7 0zM144.7 620.1a1.85 1.85 0 1 0 3.7 0a1.85 1.85 0 1 0 -3.7 0z" fill="#582458"/>
<line x1="40.9" y1="610.2" x2="158.7" y2="597.1" stroke="#000" stroke-width="1.8"/>
<line x1="31" y1="548" x2="31" y2="657" stroke="#111" stroke-width="1.1"/>
<line x1="28.8" y1="654.8" x2="31" y2="654.8" stroke="#333" stroke-width="0.9"/>
<text x="27.3" y="657.3" font-size="7" fill="#222" text-anchor="end">30</text>
<line x1="28.8" y1="635" x2="31" y2="635" stroke="#333" stroke-width="0.9"/>
<text x="27.3" y="637.5" font-size="7" fill="#222" text-anchor="end">40</text>
<line x1="28.8" y1="615.1" x2="31" y2="615.1" stroke="#333" stroke-width="0.9"/>
<text x="27.3" y="617.6" font-size="7" fill="#222" text-anchor="end">50</text>
<line x1="28.8" y1="595.3" x2="31" y2="595.3" stroke="#333" stroke-width="0.9"/>
<text x="27.3" y="597.8" font-size="7" fill="#222" text-anchor="end">60</text>
<line x1="28.8" y1="575.4" x2="31" y2="575.4" stroke="#333" stroke-width="0.9"/>
<text x="27.3" y="577.9" font-size="7" fill="#222" text-anchor="end">70</text>
<line x1="28.8" y1="555.6" x2="31" y2="555.6" stroke="#333" stroke-width="0.9"/>
<text x="27.3" y="558.1" font-size="7" fill="#222" text-anchor="end">80</text>
<line x1="31" y1="657.45" x2="165" y2="657.45" stroke="#222" stroke-width="1.2"/>
<line x1="40.8" y1="657" x2="40.8" y2="659.2" stroke="#333" stroke-width="0.9"/>
<text x="40.8" y="666" font-size="7" fill="#222" text-anchor="middle">40</text>
<line x1="80.1" y1="657" x2="80.1" y2="659.2" stroke="#333" stroke-width="0.9"/>
<text x="80.1" y="666" font-size="7" fill="#222" text-anchor="middle">50</text>
<line x1="119.3" y1="657" x2="119.3" y2="659.2" stroke="#333" stroke-width="0.9"/>
<text x="119.3" y="666" font-size="7" fill="#222" text-anchor="middle">60</text>
<line x1="158.6" y1="657" x2="158.6" y2="659.2" stroke="#333" stroke-width="0.9"/>
<text x="158.6" y="666" font-size="7" fill="#222" text-anchor="middle">70</text>
<rect x="169" y="535" width="134" height="13" fill="#D9D9D9"/>
<text x="236" y="544.2" font-size="6.8" fill="#1A1A1A" text-anchor="middle">Metabolic-LASSO-Training/validation/test</text>
<text x="175.3" y="558.3" font-size="5.3" fill="#000"><tspan font-style="italic">R</tspan> = 0.5, <tspan font-style="italic">p</tspan> &lt; 2.2e-16</text>
<path d="M178.8 596V629.6M182.7 591.4V630.7M186.7 590.8V630.7M190.6 592.6V631.8M194.5 587.6V629.6M198.4 591.4V629.6M202.4 589.9V630.7M206.3 586.9V629.6M210.2 592.6V631.8M214.1 589.2V630.7M218.1 589.9V629.6M222 587.6V632.9M225.9 581.3V629.6M229.9 583.6V630.7M233.8 584.7V627.3M237.7 585.8V628.4M241.6 580.2V627.3M245.6 584.7V627.8M249.5 583.6V626.2M253.4 586.9V628.4M257.3 580.2V627.3M261.3 577.9V626.2M265.2 583.6V625M269.1 583.6V623.9M273 581.3V623.9M277 582.4V625M280.9 582.4V622.8M284.8 576.8V623.9M288.8 582.4V620.5M292.7 583.6V620.5M296.6 584.7V616" stroke="#582458" stroke-width="3.56" stroke-linecap="round" fill="none"/>
<path d="M177.1 638.1a1.85 1.85 0 1 0 3.7 0a1.85 1.85 0 1 0 -3.7 0zM177.1 640.8a1.85 1.85 0 1 0 3.7 0a1.85 1.85 0 1 0 -3.7 0zM184.9 580.7a1.85 1.85 0 1 0 3.7 0a1.85 1.85 0 1 0 -3.7 0zM188.8 577.7a1.85 1.85 0 1 0 3.7 0a1.85 1.85 0 1 0 -3.7 0zM196.7 581.3a1.85 1.85 0 1 0 3.7 0a1.85 1.85 0 1 0 -3.7 0zM200.5 635.8a1.85 1.85 0 1 0 3.7 0a1.85 1.85 0 1 0 -3.7 0zM212.2 571.2a1.85 1.85 0 1 0 3.7 0a1.85 1.85 0 1 0 -3.7 0zM212.2 581.3a1.85 1.85 0 1 0 3.7 0a1.85 1.85 0 1 0 -3.7 0zM228 578.4a1.85 1.85 0 1 0 3.7 0a1.85 1.85 0 1 0 -3.7 0zM231.8 562.6a1.85 1.85 0 1 0 3.7 0a1.85 1.85 0 1 0 -3.7 0zM231.8 571a1.85 1.85 0 1 0 3.7 0a1.85 1.85 0 1 0 -3.7 0zM235.8 578.4a1.85 1.85 0 1 0 3.7 0a1.85 1.85 0 1 0 -3.7 0zM243.7 567.1a1.85 1.85 0 1 0 3.7 0a1.85 1.85 0 1 0 -3.7 0zM243.7 577.3a1.85 1.85 0 1 0 3.7 0a1.85 1.85 0 1 0 -3.7 0zM247.6 639.9a1.85 1.85 0 1 0 3.7 0a1.85 1.85 0 1 0 -3.7 0zM263.3 572.3a1.85 1.85 0 1 0 3.7 0a1.85 1.85 0 1 0 -3.7 0zM263.3 577.3a1.85 1.85 0 1 0 3.7 0a1.85 1.85 0 1 0 -3.7 0zM271 575a1.85 1.85 0 1 0 3.7 0a1.85 1.85 0 1 0 -3.7 0zM275 571.6a1.85 1.85 0 1 0 3.7 0a1.85 1.85 0 1 0 -3.7 0zM275 578.4a1.85 1.85 0 1 0 3.7 0a1.85 1.85 0 1 0 -3.7 0zM278.9 568.3a1.85 1.85 0 1 0 3.7 0a1.85 1.85 0 1 0 -3.7 0zM294.9 577.3a1.85 1.85 0 1 0 3.7 0a1.85 1.85 0 1 0 -3.7 0zM172.8 617.4a1.85 1.85 0 1 0 3.7 0a1.85 1.85 0 1 0 -3.7 0zM220.1 634.7a1.85 1.85 0 1 0 3.7 0a1.85 1.85 0 1 0 -3.7 0zM271 625.7a1.85 1.85 0 1 0 3.7 0a1.85 1.85 0 1 0 -3.7 0zM275 628a1.85 1.85 0 1 0 3.7 0a1.85 1.85 0 1 0 -3.7 0zM282.7 625.7a1.85 1.85 0 1 0 3.7 0a1.85 1.85 0 1 0 -3.7 0z" fill="#582458"/>
<line x1="175.3" y1="615.1" x2="296.7" y2="599.8" stroke="#000" stroke-width="1.8"/>
<line x1="169" y1="657.45" x2="303" y2="657.45" stroke="#222" stroke-width="1.2"/>
<line x1="178.8" y1="657" x2="178.8" y2="659.2" stroke="#333" stroke-width="0.9"/>
<text x="178.8" y="666" font-size="7" fill="#222" text-anchor="middle">40</text>
<line x1="218.1" y1="657" x2="218.1" y2="659.2" stroke="#333" stroke-width="0.9"/>
<text x="218.1" y="666" font-size="7" fill="#222" text-anchor="middle">50</text>
<line x1="257.3" y1="657" x2="257.3" y2="659.2" stroke="#333" stroke-width="0.9"/>
<text x="257.3" y="666" font-size="7" fill="#222" text-anchor="middle">60</text>
<line x1="296.6" y1="657" x2="296.6" y2="659.2" stroke="#333" stroke-width="0.9"/>
<text x="296.6" y="666" font-size="7" fill="#222" text-anchor="middle">70</text>
<text x="169.3" y="682" font-size="15.5" fill="#1A1A1A" text-anchor="middle">Chronological age</text>
<text x="449.3" y="554.3" font-size="15.5" fill="#1A1A1A" text-anchor="middle">Chronological age</text>
<text transform="translate(14.4 486) rotate(-90)" font-size="15.5" fill="#1A1A1A" text-anchor="middle">Predicted age</text>
<text x="-1" y="292.8" font-size="38" fill="#000">c</text>
<line x1="194.5" y1="2.5" x2="194.5" y2="138.5" stroke="#707070" stroke-width="1"/>
<line x1="194" y1="138.5" x2="595" y2="138.5" stroke="#333" stroke-width="1"/>
<line x1="192" y1="122.3" x2="194.4" y2="122.3" stroke="#333" stroke-width="0.9"/>
<text x="191" y="125" font-size="7.6" fill="#222" text-anchor="end">0</text>
<line x1="192" y1="39.5" x2="194.4" y2="39.5" stroke="#333" stroke-width="0.9"/>
<text x="191" y="42.2" font-size="7.6" fill="#222" text-anchor="end">25</text>
<text transform="translate(186.3 80.6) rotate(-90) scale(1 1.0)" font-size="16.3" fill="#111" stroke="#111" stroke-width="0.25" text-anchor="middle">MAE</text>
<text x="248" y="38" font-size="38" fill="#000">b</text>
<line x1="206" y1="65.2" x2="206" y2="94.4" stroke="#555" stroke-width="0.9"/>
<line x1="206" y1="113.5" x2="206" y2="121.6" stroke="#555" stroke-width="0.9"/>
<rect x="198.6" y="94.4" width="14.8" height="19.1" fill="#4A8F77" stroke="#333" stroke-width="0.8"/>
<line x1="198.6" y1="104.5" x2="213.4" y2="104.5" stroke="#333" stroke-width="1.8"/>
<line x1="206" y1="138.5" x2="206" y2="141" stroke="#333" stroke-width="0.9"/>
<text transform="translate(201.2 80) rotate(-75)" font-size="5.2" fill="#111" stroke="#111" stroke-width="0.1" text-anchor="middle">MAE=5.77</text>
<text transform="translate(205.1 143.2) rotate(-69.5)" font-size="8.8" fill="#000" stroke="#000" stroke-width="0.12" text-anchor="end" dy="3">LASSO-Training/validation/test</text>
<line x1="225.8" y1="18.4" x2="225.8" y2="68.7" stroke="#555" stroke-width="0.9"/>
<line x1="225.8" y1="103.3" x2="225.8" y2="121.6" stroke="#555" stroke-width="0.9"/>
<rect x="218.4" y="68.7" width="14.8" height="34.6" fill="#4A8F77" stroke="#333" stroke-width="0.8"/>
<line x1="218.4" y1="86.1" x2="233.2" y2="86.1" stroke="#333" stroke-width="1.8"/>
<line x1="225.8" y1="138.5" x2="225.8" y2="141" stroke="#333" stroke-width="0.9"/>
<text transform="translate(221 45.3) rotate(-75)" font-size="5.2" fill="#111" stroke="#111" stroke-width="0.1" text-anchor="middle">MAE=11.1</text>
<text transform="translate(224.9 143.2) rotate(-69.5)" font-size="8.8" fill="#000" stroke="#000" stroke-width="0.12" text-anchor="end" dy="3">LASSO-Ind. test</text>
<line x1="245.7" y1="61.2" x2="245.7" y2="92.2" stroke="#555" stroke-width="0.9"/>
<line x1="245.7" y1="112.8" x2="245.7" y2="121.6" stroke="#555" stroke-width="0.9"/>
<rect x="238.3" y="92.2" width="14.8" height="20.6" fill="#2F5862" stroke="#333" stroke-width="0.8"/>
<line x1="238.3" y1="102.9" x2="253.1" y2="102.9" stroke="#333" stroke-width="1.8"/>
<line x1="245.7" y1="138.5" x2="245.7" y2="141" stroke="#333" stroke-width="0.9"/>
<text transform="translate(240.9 77.5) rotate(-75)" font-size="5.2" fill="#111" stroke="#111" stroke-width="0.1" text-anchor="middle">MAE=6.16</text>
<text transform="translate(244.8 143.2) rotate(-69.5)" font-size="8.8" fill="#000" stroke="#000" stroke-width="0.12" text-anchor="end" dy="3">LASSO-Training/validation/test</text>
<line x1="265.5" y1="55.5" x2="265.5" y2="90.5" stroke="#555" stroke-width="0.9"/>
<line x1="265.5" y1="112.3" x2="265.5" y2="121.6" stroke="#555" stroke-width="0.9"/>
<rect x="258.1" y="90.5" width="14.8" height="21.8" fill="#2F5862" stroke="#333" stroke-width="0.8"/>
<line x1="258.1" y1="102.6" x2="272.9" y2="102.6" stroke="#333" stroke-width="1.8"/>
<line x1="265.5" y1="138.5" x2="265.5" y2="141" stroke="#333" stroke-width="0.9"/>
<text transform="translate(260.7 74) rotate(-75)" font-size="5.2" fill="#111" stroke="#111" stroke-width="0.1" text-anchor="middle">MAE=6.35</text>
<text transform="translate(264.6 143.2) rotate(-69.5)" font-size="8.8" fill="#000" stroke="#000" stroke-width="0.12" text-anchor="end" dy="3">LASSO-Ind. test</text>
<line x1="285.4" y1="61.2" x2="285.4" y2="92.6" stroke="#555" stroke-width="0.9"/>
<line x1="285.4" y1="112.8" x2="285.4" y2="121.6" stroke="#555" stroke-width="0.9"/>
<rect x="278" y="92.6" width="14.8" height="20.2" fill="#3678A1" stroke="#333" stroke-width="0.8"/>
<line x1="278" y1="102.9" x2="292.8" y2="102.9" stroke="#333" stroke-width="1.8"/>
<line x1="285.4" y1="138.5" x2="285.4" y2="141" stroke="#333" stroke-width="0.9"/>
<text transform="translate(280.6 77.1) rotate(-75)" font-size="5.2" fill="#111" stroke="#111" stroke-width="0.1" text-anchor="middle">MAE=6.14</text>
<text transform="translate(284.5 143.2) rotate(-69.5)" font-size="8.8" fill="#000" stroke="#000" stroke-width="0.12" text-anchor="end" dy="3">LASSO-Training/validation/test</text>
<line x1="305.2" y1="54.5" x2="305.2" y2="90.5" stroke="#555" stroke-width="0.9"/>
<line x1="305.2" y1="112.6" x2="305.2" y2="121.6" stroke="#555" stroke-width="0.9"/>
<rect x="297.8" y="90.5" width="14.8" height="22.1" fill="#3678A1" stroke="#333" stroke-width="0.8"/>
<line x1="297.8" y1="102.1" x2="312.6" y2="102.1" stroke="#333" stroke-width="1.8"/>
<line x1="305.2" y1="138.5" x2="305.2" y2="141" stroke="#333" stroke-width="0.9"/>
<text transform="translate(300.4 77.1) rotate(-75)" font-size="5.2" fill="#111" stroke="#111" stroke-width="0.1" text-anchor="middle">MAE=6.58</text>
<text transform="translate(304.3 143.2) rotate(-69.5)" font-size="8.8" fill="#000" stroke="#000" stroke-width="0.12" text-anchor="end" dy="3">LASSO-Ind. test</text>
<line x1="325" y1="60.9" x2="325" y2="91.9" stroke="#555" stroke-width="0.9"/>
<line x1="325" y1="112.6" x2="325" y2="121.6" stroke="#555" stroke-width="0.9"/>
<rect x="317.6" y="91.9" width="14.8" height="20.7" fill="#EA5E2D" stroke="#333" stroke-width="0.8"/>
<line x1="317.6" y1="102.7" x2="332.4" y2="102.7" stroke="#333" stroke-width="1.8"/>
<line x1="325" y1="138.5" x2="325" y2="141" stroke="#333" stroke-width="0.9"/>
<text transform="translate(320.2 78.1) rotate(-75)" font-size="5.2" fill="#111" stroke="#111" stroke-width="0.1" text-anchor="middle">MAE=6.18</text>
<text transform="translate(324.1 143.2) rotate(-69.5)" font-size="8.8" fill="#000" stroke="#000" stroke-width="0.12" text-anchor="end" dy="3">LASSO-Training/validation/test</text>
<line x1="344.9" y1="34.3" x2="344.9" y2="77.6" stroke="#555" stroke-width="0.9"/>
<line x1="344.9" y1="110.5" x2="344.9" y2="121.6" stroke="#555" stroke-width="0.9"/>
<rect x="337.5" y="77.6" width="14.8" height="32.9" fill="#EA5E2D" stroke="#333" stroke-width="0.8"/>
<line x1="337.5" y1="96.5" x2="352.3" y2="96.5" stroke="#333" stroke-width="1.8"/>
<line x1="344.9" y1="138.5" x2="344.9" y2="141" stroke="#333" stroke-width="0.9"/>
<text transform="translate(340.1 62.8) rotate(-75)" font-size="5.2" fill="#111" stroke="#111" stroke-width="0.1" text-anchor="middle">MAE=8.74</text>
<text transform="translate(344 143.2) rotate(-69.5)" font-size="8.8" fill="#000" stroke="#000" stroke-width="0.12" text-anchor="end" dy="3">LASSO-Ind. test</text>
<line x1="364.7" y1="68.0" x2="364.7" y2="95.3" stroke="#555" stroke-width="0.9"/>
<line x1="364.7" y1="114.0" x2="364.7" y2="121.6" stroke="#555" stroke-width="0.9"/>
<rect x="357.3" y="95.3" width="14.8" height="18.7" fill="#582458" stroke="#333" stroke-width="0.8"/>
<line x1="357.3" y1="105.8" x2="372.1" y2="105.8" stroke="#333" stroke-width="1.8"/>
<line x1="364.7" y1="138.5" x2="364.7" y2="141" stroke="#333" stroke-width="0.9"/>
<text transform="translate(359.9 82.2) rotate(-75)" font-size="5.2" fill="#111" stroke="#111" stroke-width="0.1" text-anchor="middle">MAE=5.49</text>
<text transform="translate(363.8 143.2) rotate(-69.5)" font-size="8.8" fill="#000" stroke="#000" stroke-width="0.12" text-anchor="end" dy="3">LASSO-Training/validation/test</text>
<line x1="384.6" y1="56.0" x2="384.6" y2="92.4" stroke="#555" stroke-width="0.9"/>
<line x1="384.6" y1="113.8" x2="384.6" y2="121.6" stroke="#555" stroke-width="0.9"/>
<rect x="377.2" y="92.4" width="14.8" height="21.4" fill="#582458" stroke="#333" stroke-width="0.8"/>
<line x1="377.2" y1="104.4" x2="392" y2="104.4" stroke="#333" stroke-width="1.8"/>
<line x1="384.6" y1="138.5" x2="384.6" y2="141" stroke="#333" stroke-width="0.9"/>
<text transform="translate(379.8 78.1) rotate(-75)" font-size="5.2" fill="#111" stroke="#111" stroke-width="0.1" text-anchor="middle">MAE=6.09</text>
<text transform="translate(383.7 143.2) rotate(-69.5)" font-size="8.8" fill="#000" stroke="#000" stroke-width="0.12" text-anchor="end" dy="3">LASSO-Ind. test</text>
<line x1="404.4" y1="65.4" x2="404.4" y2="94.5" stroke="#555" stroke-width="0.9"/>
<line x1="404.4" y1="113.4" x2="404.4" y2="121.6" stroke="#555" stroke-width="0.9"/>
<rect x="397" y="94.5" width="14.8" height="18.9" fill="#4A8F77" stroke="#333" stroke-width="0.8"/>
<line x1="397" y1="104.7" x2="411.8" y2="104.7" stroke="#333" stroke-width="1.8"/>
<line x1="404.4" y1="138.5" x2="404.4" y2="141" stroke="#333" stroke-width="0.9"/>
<text transform="translate(399.6 79.1) rotate(-75)" font-size="5.2" fill="#111" stroke="#111" stroke-width="0.1" text-anchor="middle">MAE=5.80</text>
<text transform="translate(403.5 143.2) rotate(-69.5)" font-size="8.8" fill="#000" stroke="#000" stroke-width="0.12" text-anchor="end" dy="3">NN-Training/validation/test</text>
<line x1="424.2" y1="44.5" x2="424.2" y2="86.8" stroke="#555" stroke-width="0.9"/>
<line x1="424.2" y1="112.4" x2="424.2" y2="121.6" stroke="#555" stroke-width="0.9"/>
<rect x="416.8" y="86.8" width="14.8" height="25.6" fill="#4A8F77" stroke="#333" stroke-width="0.8"/>
<line x1="416.8" y1="101.1" x2="431.6" y2="101.1" stroke="#333" stroke-width="1.8"/>
<line x1="424.2" y1="138.5" x2="424.2" y2="141" stroke="#333" stroke-width="0.9"/>
<text transform="translate(419.4 75.1) rotate(-75)" font-size="5.2" fill="#111" stroke="#111" stroke-width="0.1" text-anchor="middle">MAE=7.15</text>
<text transform="translate(423.3 143.2) rotate(-69.5)" font-size="8.8" fill="#000" stroke="#000" stroke-width="0.12" text-anchor="end" dy="3">NN-Ind. test</text>
<line x1="444.1" y1="62.3" x2="444.1" y2="92.3" stroke="#555" stroke-width="0.9"/>
<line x1="444.1" y1="112.8" x2="444.1" y2="121.6" stroke="#555" stroke-width="0.9"/>
<rect x="436.7" y="92.3" width="14.8" height="20.5" fill="#2F5862" stroke="#333" stroke-width="0.8"/>
<line x1="436.7" y1="103.1" x2="451.5" y2="103.1" stroke="#333" stroke-width="1.8"/>
<line x1="444.1" y1="138.5" x2="444.1" y2="141" stroke="#333" stroke-width="0.9"/>
<text transform="translate(439.3 82.2) rotate(-75)" font-size="5.2" fill="#111" stroke="#111" stroke-width="0.1" text-anchor="middle">MAE=6.11</text>
<text transform="translate(443.2 143.2) rotate(-69.5)" font-size="8.8" fill="#000" stroke="#000" stroke-width="0.12" text-anchor="end" dy="3">NN-Training/validation/test</text>
<line x1="463.9" y1="54.5" x2="463.9" y2="90.3" stroke="#555" stroke-width="0.9"/>
<line x1="463.9" y1="112.4" x2="463.9" y2="121.6" stroke="#555" stroke-width="0.9"/>
<rect x="456.5" y="90.3" width="14.8" height="22.1" fill="#2F5862" stroke="#333" stroke-width="0.8"/>
<line x1="456.5" y1="102.6" x2="471.3" y2="102.6" stroke="#333" stroke-width="1.8"/>
<line x1="463.9" y1="138.5" x2="463.9" y2="141" stroke="#333" stroke-width="0.9"/>
<text transform="translate(459.1 73.5) rotate(-75)" font-size="5.2" fill="#111" stroke="#111" stroke-width="0.1" text-anchor="middle">MAE=6.45</text>
<text transform="translate(463 143.2) rotate(-69.5)" font-size="8.8" fill="#000" stroke="#000" stroke-width="0.12" text-anchor="end" dy="3">NN-Ind. test</text>
<line x1="483.8" y1="60.9" x2="483.8" y2="92.3" stroke="#555" stroke-width="0.9"/>
<line x1="483.8" y1="112.8" x2="483.8" y2="121.6" stroke="#555" stroke-width="0.9"/>
<rect x="476.4" y="92.3" width="14.8" height="20.5" fill="#3678A1" stroke="#333" stroke-width="0.8"/>
<line x1="476.4" y1="102.7" x2="491.2" y2="102.7" stroke="#333" stroke-width="1.8"/>
<line x1="483.8" y1="138.5" x2="483.8" y2="141" stroke="#333" stroke-width="0.9"/>
<text transform="translate(479 77.1) rotate(-75)" font-size="5.2" fill="#111" stroke="#111" stroke-width="0.1" text-anchor="middle">MAE=6.18</text>
<text transform="translate(482.9 143.2) rotate(-69.5)" font-size="8.8" fill="#000" stroke="#000" stroke-width="0.12" text-anchor="end" dy="3">NN-Training/validation/test</text>
<line x1="503.6" y1="7.0" x2="503.6" y2="66.3" stroke="#555" stroke-width="0.9"/>
<line x1="503.6" y1="103.1" x2="503.6" y2="121.6" stroke="#555" stroke-width="0.9"/>
<rect x="496.2" y="66.3" width="14.8" height="36.8" fill="#3678A1" stroke="#333" stroke-width="0.8"/>
<line x1="496.2" y1="85.4" x2="511" y2="85.4" stroke="#333" stroke-width="1.8"/>
<line x1="503.6" y1="138.5" x2="503.6" y2="141" stroke="#333" stroke-width="0.9"/>
<text transform="translate(498.8 54.1) rotate(-75)" font-size="5.2" fill="#111" stroke="#111" stroke-width="0.1" text-anchor="middle">MAE=11.7</text>
<text transform="translate(502.7 143.2) rotate(-69.5)" font-size="8.8" fill="#000" stroke="#000" stroke-width="0.12" text-anchor="end" dy="3">NN-Ind. test</text>
<line x1="523.4" y1="59.8" x2="523.4" y2="91.5" stroke="#555" stroke-width="0.9"/>
<line x1="523.4" y1="112.4" x2="523.4" y2="121.6" stroke="#555" stroke-width="0.9"/>
<rect x="516" y="91.5" width="14.8" height="20.9" fill="#EA5E2D" stroke="#333" stroke-width="0.8"/>
<line x1="516" y1="102.4" x2="530.8" y2="102.4" stroke="#333" stroke-width="1.8"/>
<line x1="523.4" y1="138.5" x2="523.4" y2="141" stroke="#333" stroke-width="0.9"/>
<text transform="translate(518.6 78.1) rotate(-75)" font-size="5.2" fill="#111" stroke="#111" stroke-width="0.1" text-anchor="middle">MAE=6.26</text>
<text transform="translate(522.5 143.2) rotate(-69.5)" font-size="8.8" fill="#000" stroke="#000" stroke-width="0.12" text-anchor="end" dy="3">NN-Training/validation/test</text>
<line x1="543.3" y1="54.5" x2="543.3" y2="90.4" stroke="#555" stroke-width="0.9"/>
<line x1="543.3" y1="112.4" x2="543.3" y2="121.6" stroke="#555" stroke-width="0.9"/>
<rect x="535.9" y="90.4" width="14.8" height="22" fill="#EA5E2D" stroke="#333" stroke-width="0.8"/>
<line x1="535.9" y1="102.1" x2="550.7" y2="102.1" stroke="#333" stroke-width="1.8"/>
<line x1="543.3" y1="138.5" x2="543.3" y2="141" stroke="#333" stroke-width="0.9"/>
<text transform="translate(538.5 77.1) rotate(-75)" font-size="5.2" fill="#111" stroke="#111" stroke-width="0.1" text-anchor="middle">MAE=6.59</text>
<text transform="translate(542.4 143.2) rotate(-69.5)" font-size="8.8" fill="#000" stroke="#000" stroke-width="0.12" text-anchor="end" dy="3">NN-Ind. test</text>
<line x1="563.1" y1="68.0" x2="563.1" y2="95.4" stroke="#555" stroke-width="0.9"/>
<line x1="563.1" y1="114.3" x2="563.1" y2="121.6" stroke="#555" stroke-width="0.9"/>
<rect x="555.7" y="95.4" width="14.8" height="18.9" fill="#582458" stroke="#333" stroke-width="0.8"/>
<line x1="555.7" y1="105.8" x2="570.5" y2="105.8" stroke="#333" stroke-width="1.8"/>
<line x1="563.1" y1="138.5" x2="563.1" y2="141" stroke="#333" stroke-width="0.9"/>
<text transform="translate(558.3 83.2) rotate(-75)" font-size="5.2" fill="#111" stroke="#111" stroke-width="0.1" text-anchor="middle">MAE=5.30</text>
<text transform="translate(562.2 143.2) rotate(-69.5)" font-size="8.8" fill="#000" stroke="#000" stroke-width="0.12" text-anchor="end" dy="3">NN-Training/validation/test</text>
<line x1="583" y1="42.2" x2="583" y2="85.2" stroke="#555" stroke-width="0.9"/>
<line x1="583" y1="111.6" x2="583" y2="121.6" stroke="#555" stroke-width="0.9"/>
<rect x="575.6" y="85.2" width="14.8" height="26.4" fill="#582458" stroke="#333" stroke-width="0.8"/>
<line x1="575.6" y1="100.0" x2="590.4" y2="100.0" stroke="#333" stroke-width="1.8"/>
<line x1="583" y1="138.5" x2="583" y2="141" stroke="#333" stroke-width="0.9"/>
<text transform="translate(578.2 71) rotate(-75)" font-size="5.2" fill="#111" stroke="#111" stroke-width="0.1" text-anchor="middle">MAE=7.68</text>
<text transform="translate(582.1 143.2) rotate(-69.5)" font-size="8.8" fill="#000" stroke="#000" stroke-width="0.12" text-anchor="end" dy="3">NN-Ind. test</text>
<path d="M206 15.5V11.5H225.8V15.5" stroke="#333" stroke-width="0.8" fill="none"/>
<text x="215.9" y="10.2" font-size="5.2" fill="#111" stroke="#111" stroke-width="0.1" text-anchor="middle">Cohen's D=1.217</text>
<path d="M214.3 13.4L216.1 14.7" stroke="#444" stroke-width="0.8" stroke-linecap="round"/>
<path d="M245.7 53.5V49.5H265.5V53.5" stroke="#333" stroke-width="0.8" fill="none"/>
<text x="255.6" y="48.1" font-size="5.2" fill="#111" stroke="#111" stroke-width="0.1" text-anchor="middle">Cohen's D=0.097</text>
<path d="M254 51.4L255.8 52.7" stroke="#444" stroke-width="0.8" stroke-linecap="round"/>
<path d="M285.4 56.7V52.7H305.2V56.7" stroke="#333" stroke-width="0.8" fill="none"/>
<text x="295.3" y="51.5" font-size="5.2" fill="#111" stroke="#111" stroke-width="0.1" text-anchor="middle">Cohen's D=0.108</text>
<path d="M293.7 54.6L295.5 55.9" stroke="#444" stroke-width="0.8" stroke-linecap="round"/>
<path d="M325 33.6V29.6H344.9V33.6" stroke="#333" stroke-width="0.8" fill="none"/>
<text x="335" y="27.8" font-size="5.2" fill="#111" stroke="#111" stroke-width="0.1" text-anchor="middle">Cohen's D=0.583</text>
<path d="M333.4 31.5L335.2 32.8" stroke="#444" stroke-width="0.8" stroke-linecap="round"/>
<path d="M364.7 58.1V54.1H384.6V58.1" stroke="#333" stroke-width="0.8" fill="none"/>
<text x="374.6" y="53" font-size="5.2" fill="#111" stroke="#111" stroke-width="0.1" text-anchor="middle">Cohen's D=0.155</text>
<path d="M373 56L374.8 57.3" stroke="#444" stroke-width="0.8" stroke-linecap="round"/>
<path d="M404.4 46.5V42.5H424.2V46.5" stroke="#333" stroke-width="0.8" fill="none"/>
<text x="414.3" y="40.7" font-size="5.2" fill="#111" stroke="#111" stroke-width="0.1" text-anchor="middle">Cohen's D=0.322</text>
<path d="M412.7 44.4L414.5 45.7" stroke="#444" stroke-width="0.8" stroke-linecap="round"/>
<path d="M444.1 56.7V52.7H463.9V56.7" stroke="#333" stroke-width="0.8" fill="none"/>
<text x="454" y="51.3" font-size="5.2" fill="#111" stroke="#111" stroke-width="0.1" text-anchor="middle">Cohen's D=0.092</text>
<path d="M452.4 54.6L454.2 55.9" stroke="#444" stroke-width="0.8" stroke-linecap="round"/>
<path d="M483.8 9.1V5.1H503.6V9.1" stroke="#333" stroke-width="0.8" fill="none"/>
<text x="493.7" y="3.5" font-size="5.2" fill="#111" stroke="#111" stroke-width="0.1" text-anchor="middle">Cohen's D=1.160</text>
<path d="M492.1 7L493.9 8.3" stroke="#444" stroke-width="0.8" stroke-linecap="round"/>
<path d="M523.4 56.7V52.7H543.3V56.7" stroke="#333" stroke-width="0.8" fill="none"/>
<text x="533.4" y="50.9" font-size="5.2" fill="#111" stroke="#111" stroke-width="0.1" text-anchor="middle">Cohen's D=0.070</text>
<path d="M531.8 54.6L533.6 55.9" stroke="#444" stroke-width="0.8" stroke-linecap="round"/>
<path d="M563.1 44.4V40.4H583V44.4" stroke="#333" stroke-width="0.8" fill="none"/>
<text x="573" y="39.3" font-size="5.2" fill="#111" stroke="#111" stroke-width="0.1" text-anchor="middle">Cohen's D=0.519</text>
<path d="M571.4 42.3L573.2 43.6" stroke="#444" stroke-width="0.8" stroke-linecap="round"/>
<text x="297.2" y="47.6" font-size="23" fill="#3678A1" stroke="#3678A1" stroke-width="0.6" text-anchor="middle">#</text>
<text x="376.5" y="48.3" font-size="23" fill="#582458" stroke="#582458" stroke-width="0.6" text-anchor="middle">#</text>
<text x="414.1" y="36.6" font-size="23" fill="#4A8F77" stroke="#4A8F77" stroke-width="0.6" text-anchor="middle">#</text>
<text x="455.6" y="44.8" font-size="23" fill="#2F5862" stroke="#2F5862" stroke-width="0.6" text-anchor="middle">#</text>
<text x="534" y="46.8" font-size="23" fill="#EA5E2D" stroke="#EA5E2D" stroke-width="0.6" text-anchor="middle">#</text>
<text x="3" y="33" font-size="38" fill="#000">a</text>

<defs>
 <filter id="blur3" x="-50%" y="-50%" width="200%" height="200%"><feGaussianBlur stdDeviation="2.6"/></filter>
 <radialGradient id="glow" cx="0.5" cy="0.5" r="0.5">
  <stop offset="0.55" stop-color="#F26A6A" stop-opacity="0.85"/>
  <stop offset="1" stop-color="#F7A0A0" stop-opacity="0"/>
 </radialGradient>
 <linearGradient id="armL" x1="0" y1="0" x2="0" y2="1"><stop offset="0" stop-color="#FBE6D8"/><stop offset="1" stop-color="#FBF0D8"/></linearGradient>
</defs>
<g stroke-linejoin="round">
 <!-- body silhouette -->
 <path d="M67.0 81.5C65.5 81.8 60.9 82.8 58.0 83.6C55.1 84.4 51.8 85.2 49.5 86.5C47.2 87.8 45.5 89.6 44.3 91.5C43.0 93.4 42.5 95.9 42.0 98.0C41.5 100.1 41.5 101.0 41.2 104.0C40.9 107.0 40.5 111.9 40.2 116.0C39.9 120.1 40.1 123.4 39.3 128.7C38.5 134.0 36.6 141.7 35.5 147.7C34.4 153.7 33.5 158.9 32.6 164.8C31.7 170.7 30.3 178.8 30.0 183.0C29.7 187.2 30.2 187.2 30.6 190.0C31.0 192.8 31.9 197.0 32.6 200.0C33.3 203.0 34.0 205.9 34.6 208.0C35.2 210.1 35.7 211.7 36.4 212.6C37.1 213.5 38.0 213.9 38.6 213.6C39.2 213.3 39.6 212.6 40.0 211.0C40.4 209.4 40.7 206.5 41.0 204.0C41.3 201.5 41.4 199.0 41.6 196.0C41.8 193.0 42.0 187.7 42.1 186.0C42.2 184.1 42.4 178.6 43.0 174.4C43.6 170.2 45.0 165.1 45.9 161.0C46.8 156.9 47.8 153.2 48.6 150.0C49.4 146.8 50.0 145.2 50.7 142.0C51.4 138.8 52.1 133.8 52.6 131.0C53.1 128.2 53.2 126.9 53.6 125.5C54.0 124.1 54.8 123.0 55.0 122.5C55.2 123.1 56.2 123.8 56.4 126.0C56.6 128.2 56.6 132.4 56.4 136.0C56.2 139.6 55.8 143.9 55.4 147.7C55.0 151.5 54.4 155.2 53.8 159.0C53.2 162.8 52.3 166.9 51.6 170.6C50.9 174.3 50.1 177.5 49.6 181.0C49.1 184.5 48.9 187.8 48.8 191.5C48.7 195.2 48.9 199.2 49.0 203.0C49.1 206.8 49.5 211.3 49.7 214.3C49.9 217.3 50.3 219.9 50.4 221.0L112.3 221C112.5 219.2 113.1 213.8 113.4 210.0C113.7 206.2 114.0 202.3 114.0 198.0C114.0 193.7 113.6 189.4 113.2 184.2C112.8 179.0 112.0 171.2 111.4 166.7C110.8 162.2 110.0 159.9 109.4 157.0C108.8 154.1 108.3 151.8 107.9 149.0C107.5 146.2 107.2 143.3 107.2 140.0C107.2 136.7 107.2 131.9 107.6 129.0C108.0 126.1 109.3 123.6 109.6 122.5C109.8 123.1 110.5 124.5 111.0 126.0C111.5 127.5 111.9 128.9 112.3 131.6C112.7 134.3 113.1 138.5 113.6 142.0C114.0 145.5 114.3 147.9 115.0 152.6C115.7 157.3 116.8 165.4 117.5 170.0C118.2 174.6 118.7 177.3 119.0 180.0C119.3 182.7 119.2 185.0 119.3 186.0C119.1 187.0 118.3 189.7 118.2 192.0C118.1 194.3 118.4 197.5 118.6 200.0C118.8 202.5 119.3 204.9 119.6 207.0C119.9 209.1 120.2 211.4 120.6 212.6C121.0 213.8 121.5 214.0 122.2 214.0C122.9 214.0 123.9 213.3 124.6 212.4C125.3 211.5 125.9 210.3 126.6 208.6C127.3 206.9 128.1 204.3 128.6 202.0C129.1 199.7 129.4 197.7 129.6 195.0C129.8 192.3 129.8 187.5 129.8 186.0C130.1 184.2 131.2 179.1 131.4 175.0C131.6 170.9 131.1 166.6 130.7 161.4C130.3 156.2 129.6 149.1 129.0 143.9C128.4 138.7 127.9 134.4 127.4 130.0C127.0 125.6 126.6 121.5 126.3 117.5C126.0 113.5 125.7 109.2 125.4 106.0C125.1 102.8 125.1 100.4 124.6 98.0C124.1 95.6 123.6 93.4 122.6 91.6C121.6 89.8 120.2 88.5 118.6 87.4C117.0 86.3 115.1 85.6 113.0 84.8C110.9 84.0 108.5 83.3 106.0 82.6C103.5 81.9 99.3 80.8 98.0 80.5Z" fill="#FCEBE4" stroke="#6E5A58" stroke-width="0.7"/>
 <!-- arm bones -->
 <g fill="#FAF0D2" stroke="#EFDDB0" stroke-width="0.3">
  <path d="M49.5 104C48.4 116 47 128 46.4 138C48.6 139 49 142 48 145.5C46.4 158 43.4 170 40.6 182L37.2 181.6C38.6 170 40.6 158 41.4 146C40.4 142.4 41.2 139 43.4 138C44.2 128 45.4 116 46.6 104Z"/>
  <path d="M114.7 104C115.8 116 117.2 128 117.8 138C115.6 139 115.2 142 116.2 145.5C117.8 158 120.8 170 123.6 182L127 181.6C125.6 170 123.6 158 122.8 146C123.8 142.4 123 139 120.8 138C120 128 118.8 116 117.6 104Z"/>
 </g>
 <!-- hand details -->
 <path d="M31.2 186C31.6 194 33.2 203 36 211.4C37.4 213.2 38.8 213.2 39.6 211.2C40.8 206 41.4 198 41.6 190Z" fill="#FAF0D6" opacity="0.85"/>
 <path d="M119.6 190C119.4 198 119.6 205 121 211.4C122.4 213.6 124.6 212.8 126 210C128.2 205 129.4 198 129.6 190Z" fill="#FAF0D6" opacity="0.85"/>
 <path d="M37.4 198.6C37.2 201 37.6 203.4 38.6 205C39.2 203 39.2 200.6 38.6 198.8Z" fill="#fff" stroke="#6E5A58" stroke-width="0.45"/>
 <path d="M121.2 198.6C121 201 121.4 203.8 122.4 205.6C123 203.4 122.8 200.8 122.2 198.8Z" fill="#fff" stroke="#6E5A58" stroke-width="0.45"/>
 <path d="M39.4 206.4C40.4 207.6 40.6 209.4 40 210.8M34.2 203C35 206 36 209 37.4 211.6M124.6 206.6C125.8 205.4 126.8 204.6 127.6 204.2M126.4 195C127.2 199 127.4 202 126.8 205" fill="none" stroke="#B89C90" stroke-width="0.4"/>
 <!-- leg gap -->
 <path d="M81.2 190C80.4 200 79.6 210 79 221L84.4 221C83.6 210 82.6 200 81.6 190Z" fill="#fff" stroke="#6E5A58" stroke-width="0.6"/>
 <!-- head -->
 <path d="M59.3 41.4C59.0 41.8 58.0 43.0 57.6 44.0C57.2 45.0 56.9 46.2 56.6 47.4C56.3 48.6 55.8 49.8 55.6 51.0C55.4 52.2 55.5 53.3 55.3 54.5C55.1 55.7 54.6 56.8 54.2 58.0C53.8 59.2 53.0 60.9 52.8 61.8C52.6 62.7 52.9 62.9 53.2 63.4C53.5 63.9 54.3 64.5 54.5 65.0C54.7 65.5 54.5 65.9 54.6 66.4C54.7 67.0 54.9 67.6 55.0 68.3C55.1 69.0 55.1 69.6 55.4 70.4C55.7 71.2 56.2 72.4 56.6 73.2C57.0 74.0 57.3 74.9 57.8 75.4C58.3 75.9 58.9 76.2 59.8 76.4C60.7 76.7 61.9 76.7 63.0 76.9C64.1 77.1 65.5 77.2 66.3 77.6C67.1 78.0 67.2 78.5 67.6 79.2C67.9 79.9 68.3 81.5 68.4 82.0L95 84L97 58L88 40Z" fill="#FCEBE4"/>
 <path d="M59.3 41.4C59.0 41.8 58.0 43.0 57.6 44.0C57.2 45.0 56.9 46.2 56.6 47.4C56.3 48.6 55.8 49.8 55.6 51.0C55.4 52.2 55.5 53.3 55.3 54.5C55.1 55.7 54.6 56.8 54.2 58.0C53.8 59.2 53.0 60.9 52.8 61.8C52.6 62.7 52.9 62.9 53.2 63.4C53.5 63.9 54.3 64.5 54.5 65.0C54.7 65.5 54.5 65.9 54.6 66.4C54.7 67.0 54.9 67.6 55.0 68.3C55.1 69.0 55.1 69.6 55.4 70.4C55.7 71.2 56.2 72.4 56.6 73.2C57.0 74.0 57.3 74.9 57.8 75.4C58.3 75.9 58.9 76.2 59.8 76.4C60.7 76.7 61.9 76.7 63.0 76.9C64.1 77.1 65.5 77.2 66.3 77.6C67.1 78.0 67.2 78.5 67.6 79.2C67.9 79.9 68.3 81.5 68.4 82.0" fill="none" stroke="#6E5A58" stroke-width="0.7"/>
 <!-- hair -->
 <path d="M59.3 41.4C59.8 40.5 61.1 37.4 62.5 36.0C63.9 34.6 65.8 33.7 67.5 33.2C69.2 32.7 70.8 32.8 73.0 32.8C75.2 32.8 78.5 32.5 81.0 33.0C83.5 33.5 85.9 34.5 88.0 35.8C90.1 37.1 92.0 39.2 93.5 41.0C95.0 42.8 96.0 44.7 97.0 46.5C98.0 48.3 98.6 50.0 99.4 51.6C100.2 53.2 101.1 55.1 102.0 56.4C102.9 57.7 103.8 58.2 104.7 59.6C105.6 61.0 106.6 63.0 107.2 65.1C107.8 67.2 108.2 70.0 108.5 72.2C108.8 74.4 108.9 76.3 109.0 78.0C109.1 79.7 109.0 81.6 109.0 82.3C108.2 82.0 105.7 81.3 104.0 80.8C102.3 80.3 100.6 79.8 99.0 79.4C97.4 79.0 95.3 78.4 94.6 78.2C94.6 77.6 94.6 75.8 94.7 74.6C94.8 73.4 94.8 72.3 95.1 71.2C95.3 70.1 95.9 68.9 96.2 67.8C96.5 66.7 96.8 65.7 97.1 64.6C97.4 63.5 97.6 62.2 97.8 61.0C98.0 59.8 98.2 58.2 98.1 57.5C98.0 56.8 97.7 56.7 97.4 56.6C97.2 56.5 96.7 56.8 96.6 56.8C96.5 57.0 96.0 57.2 95.8 57.8C95.6 58.4 95.7 59.3 95.6 60.4C95.5 61.5 95.7 63.4 95.4 64.6C95.1 65.8 94.6 66.7 93.6 67.6C92.6 68.5 90.6 69.5 89.6 70.2C88.6 70.9 87.8 71.5 87.5 71.7C87.2 71.5 86.1 71.0 85.6 70.2C85.1 69.4 84.8 68.3 84.4 67.0C84.0 65.7 83.5 63.9 83.0 62.6C82.5 61.3 82.0 60.3 81.3 59.2C80.6 58.1 79.7 56.7 79.0 56.0C78.3 55.3 78.0 55.1 77.0 54.9C76.0 54.7 74.2 54.8 73.0 54.6C71.8 54.4 70.5 54.2 69.5 53.8C68.5 53.4 67.7 52.7 67.2 52.2C66.7 51.7 66.7 51.3 66.3 50.6C65.9 49.9 65.5 48.6 65.0 47.8C64.5 47.0 64.2 46.5 63.6 45.7C63.0 44.9 62.3 43.9 61.6 43.2C60.9 42.5 59.7 41.7 59.3 41.4Z" fill="#97796F" stroke="#5E4A46" stroke-width="0.6"/>
 <path d="M96.6 56.8C97.2 56.6 97.8 56.9 98.1 57.5C98 60.5 97.6 62.8 97.1 64.6C96.6 67 95.6 69 95.1 71.2C94.7 73.6 94.5 76 94.6 78.2C93.2 77.2 91.6 76 90.6 74.7C89.8 73.8 89.2 73 89.1 72.2C89.1 71.2 89.3 70.6 89.6 70.2C91 69.4 92.6 68.6 93.6 67.6C94.8 66.4 95.3 65.4 95.4 64.6C95.5 62.4 95.5 60 95.6 58.4C95.8 57.6 96.2 57 96.6 56.8Z" fill="#fff"/>
 <path d="M89.1 72.2C89.2 73 89.8 73.8 90.6 74.7C91.6 76 93.2 77.2 94.6 78.2" fill="none" stroke="#6E5A58" stroke-width="0.6"/>
 <circle cx="59.8" cy="53.4" r="1.9" fill="#B6B3BA" stroke="#8F8C96" stroke-width="0.4"/><path d="M61.8 53.6L63.4 53.2" stroke="#D8C08A" stroke-width="0.5"/>
 <!-- liver glow + liver -->
 <path d="M63.6 124C65.6 120.2 70 118.8 74.6 119C78.6 119.2 82 120.4 84 121.6C87.8 120.6 92.4 120.6 95.6 121.6C96.8 122.4 96.6 124 95.6 125.4C93.6 128.8 89.6 132.4 85.6 135.2C81.4 138.2 76.4 140.8 72 141.4C68 141.8 64.4 139.8 63 136.6C61.8 133 62 127.6 63.6 124Z" fill="#F45A5A" stroke="#F45A5A" stroke-width="4" filter="url(#blur3)" opacity="0.9"/>
 <path d="M63.6 124C65.6 120.2 70 118.8 74.6 119C78.6 119.2 82 120.4 84 121.6C87.8 120.6 92.4 120.6 95.6 121.6C96.8 122.4 96.6 124 95.6 125.4C93.6 128.8 89.6 132.4 85.6 135.2C81.4 138.2 76.4 140.8 72 141.4C68 141.8 64.4 139.8 63 136.6C61.8 133 62 127.6 63.6 124Z" fill="#C49494" stroke="#8E6466" stroke-width="0.6"/>
 <path d="M84 121.6C82.2 124.6 82 129.6 83.6 135.4" fill="none" stroke="#DDB4B4" stroke-width="0.8"/>
 <!-- intestines -->
 <path d="M70.1 146C72 145.4 74 146 76 147.2C78 148.4 80 149 81.5 148.6C85 147.4 89 145.8 92 144.6C94.5 143.6 96.6 143 97.8 143.6C99.6 144.6 100.2 146.6 101.2 148.9C102 151 102.4 153 102 154.8C101.6 157.6 101 159.6 100.3 161.5C99.4 163 97.8 164 96.1 164.9C95.2 166.6 94.2 168 93 169C91.6 170.6 90 171.8 88.6 172.5C86 173.8 83.4 174.6 81 174.6C77.6 174.4 74.6 172.6 72.6 170C72 167.6 72.4 165.4 72.2 163.2C71 161 69.4 158.4 68.4 155.6C68 152.4 68.8 148.6 70.1 146Z" fill="#F4E0E0" stroke="#A88A8A" stroke-width="0.5"/>
 <path d="M96.1 164.9C97 166.4 95.8 167.6 94.6 167.2M93.6 168.6C94.2 170 93 171 91.8 170.4M90.6 171.4C90.8 172.8 89.4 173.6 88.2 172.8M72.6 164.4C73.8 164.6 74.2 165.8 73.4 166.6" fill="none" stroke="#A88A8A" stroke-width="0.5"/>
 <!-- lymph left -->
 <g fill="none" stroke="#5AB35A" stroke-width="0.45" stroke-linecap="round">
  <path d="M68.0 85.5C62.0 87.0 56.0 92.0 53.5 99.0C51.5 106.0 50.0 118.0 48.8 130.0M66.8 86.1C59.8 87.8 53.6 92.8 51.6 99.5C50.1 106.0 49.0 118.0 48.0 133.0M65.6 86.7C57.6 88.6 51.2 93.6 49.7 100.0C48.7 106.0 48.0 118.0 47.2 136.0M64.4 87.3C55.4 89.4 48.8 94.4 47.8 100.5C47.3 106.0 47.0 118.0 46.4 139.0M63.2 87.9C53.2 90.2 46.4 95.2 45.9 101.0C45.9 106.0 46.0 118.0 45.6 142.0M60 93C61.6 96 61.8 99 60.8 102M58 96C59.5 99 59.5 103 58 106M56.5 98C55.8 101 56.4 104 57.6 107M54.5 100C53.8 103 54 106 54.8 108M57.4 104C58.6 106 58.8 109 58 111.5M55.6 106C55.8 109 56.6 111 57.2 113.5M64 89C62 91 61 93 60.6 95.5M62 91.5C63.2 93 63.6 95 63 97M47.6 136C47 142 46.4 148 45.6 154M44.4 140C43.8 146 43 152 42.2 158"/>
  <path d="M96.2 85.5C102.2 87.0 108.2 92.0 110.7 99.0C112.7 106.0 114.2 118.0 115.4 130.0M97.4 86.1C104.4 87.8 110.6 92.8 112.6 99.5C114.1 106.0 115.2 118.0 116.2 133.0M98.6 86.7C106.6 88.6 113.0 93.6 114.5 100.0C115.5 106.0 116.2 118.0 117.0 136.0M99.8 87.3C108.8 89.4 115.4 94.4 116.4 100.5C116.9 106.0 117.2 118.0 117.8 139.0M101.0 87.9C111.0 90.2 117.8 95.2 118.3 101.0C118.3 106.0 118.2 118.0 118.6 142.0M104.2 93.0C102.6 96.0 102.4 99.0 103.4 102.0M106.2 96.0C104.7 99.0 104.7 103.0 106.2 106.0M107.7 98.0C108.4 101.0 107.8 104.0 106.6 107.0M109.7 100.0C110.4 103.0 110.2 106.0 109.4 108.0M106.8 104.0C105.6 106.0 105.4 109.0 106.2 111.5M108.6 106.0C108.4 109.0 107.6 111.0 107.0 113.5M100.2 89.0C102.2 91.0 103.2 93.0 103.6 95.5M102.2 91.5C101.0 93.0 100.6 95.0 101.2 97.0M116.6 136.0C117.2 142.0 117.8 148.0 118.6 154.0M119.8 140.0C120.4 146.0 121.2 152.0 122.0 158.0"/>
 </g>
</g>
<!-- connectors -->
<g fill="none" stroke="#777" stroke-width="0.5">
 <path d="M30.6 75.8L56.2 98.6M21 101.8L56.2 99.6"/>
 <path d="M118.6 46.2C125 43 132 44 137.6 59"/>
 <path d="M26 143.6C30 147.6 35 149.6 42 149.8C50 150 58 146 63.2 134"/>
 <path d="M140 138.8C136.6 143.4 130.6 148.8 124 152.6C119 155.4 114 157.4 109.4 157.6C104 157.8 99 158 95 156.8C91.4 155.8 87.6 154.4 85.3 152.9"/>
 <path d="M142.4 178.8C139.6 174 136.6 170.2 132.9 167.6C129 164.6 125 162.6 121.2 161.8C117 160.6 113 160 109.4 160C105 160 101 160.2 97.6 160.8C94 161.6 90.6 163.4 88.2 165.3"/>
</g>
<circle cx="18.4" cy="87" r="15.1" fill="#fff" stroke="#3a3a3a" stroke-width="0.7"/>

<use href="#i-virus" x="7.9" y="76.3" width="21.5" height="21.5" color="#EF8660" opacity="1"/>
<rect x="13.3" y="55" width="9.5" height="13.6" fill="#EA5E2D" stroke="#333" stroke-width="0.8"/>
<rect x="137" y="54" width="9.5" height="13.6" fill="#4A8F77" stroke="#333" stroke-width="0.8"/>
<rect x="7.4" y="154" width="9.5" height="13.6" fill="#3678A1" stroke="#333" stroke-width="0.8"/>
<rect x="139.9" y="121.9" width="9.5" height="13.6" fill="#582458" stroke="#333" stroke-width="0.8"/>
<rect x="138.1" y="194.3" width="9.5" height="13.6" fill="#2F5862" stroke="#333" stroke-width="0.8"/>
<text transform="translate(19.4 53.4) rotate(-56.5) scale(1.1 1)" font-size="7.6" fill="#111" stroke="#111" stroke-width="0.25">Immune</text>
<text transform="translate(29.5 52.7) rotate(-56.5) scale(1.13 1)" font-size="7.4" fill="#8A8A8A" font-style="italic">N=<tspan font-style="normal">17</tspan></text>
<text transform="translate(140.1 52.6) rotate(-56.5) scale(1.1 1)" font-size="7.6" fill="#111" stroke="#111" stroke-width="0.25">Endocrine</text>
<text transform="translate(151.5 49.8) rotate(-56.5) scale(1.13 1)" font-size="7.4" fill="#8A8A8A" font-style="italic">N=<tspan font-style="normal">52</tspan></text>
<text transform="translate(11.6 153.6) rotate(-56.5) scale(1.1 1)" font-size="7.6" fill="#111" stroke="#111" stroke-width="0.25">Hepatic</text>
<text transform="translate(21.6 154.1) rotate(-56.5) scale(1.13 1)" font-size="7.4" fill="#8A8A8A" font-style="italic">N=<tspan font-style="normal">22</tspan></text>
<text transform="translate(143 120.8) rotate(-56.5) scale(1.1 1)" font-size="7.6" fill="#111" stroke="#111" stroke-width="0.25">Metabolic</text>
<text transform="translate(154.5 120) rotate(-56.5) scale(1.13 1)" font-size="7.4" fill="#8A8A8A" font-style="italic">N=<tspan font-style="normal">107</tspan></text>
<text transform="translate(143.4 193.1) rotate(-56.5) scale(1.1 1)" font-size="7.6" fill="#111" stroke="#111" stroke-width="0.25">Digestive</text>
<text transform="translate(153.8 195.8) rotate(-56.5) scale(1.13 1)" font-size="7.4" fill="#8A8A8A" font-style="italic">N=<tspan font-style="normal">14</tspan></text>
<use href="#i-human" x="103.9" y="36.2" width="15" height="25" color="#4A8F77" opacity="1"/>
<use href="#i-liver" x="0.2" y="121.0" width="20" height="18" color="#3A7FB2" opacity="1"/>
<use href="#i-met" x="140.6" y="137.1" width="21" height="21" color="#582458" opacity="1"/>
<use href="#i-gut" x="149.3" y="195.7" width="17.7" height="26.3" color="#3F6F78" opacity="0.9"/>
<use href="#i-human" x="208.4" y="113.0" width="15" height="24" color="#4A8F77" opacity="1"/>
<use href="#i-gut" x="248.8" y="116.3" width="13.5" height="20" color="#3F6F78" opacity="0.85"/>
<use href="#i-liver" x="284.8" y="119.2" width="21" height="17" color="#3678A1" opacity="1"/>
<use href="#i-virus" x="325.0" y="117.5" width="20" height="20" color="#F28A63" opacity="1"/>
<use href="#i-met" x="364.9" y="117.8" width="19.5" height="19.5" color="#582458" opacity="1"/>
<use href="#i-human" x="406.8" y="113.0" width="15" height="24" color="#4A8F77" opacity="1"/>
<use href="#i-gut" x="447.2" y="116.3" width="13.5" height="20" color="#3F6F78" opacity="0.85"/>
<use href="#i-liver" x="483.2" y="119.2" width="21" height="17" color="#3678A1" opacity="1"/>
<use href="#i-virus" x="523.4" y="117.5" width="20" height="20" color="#F28A63" opacity="1"/>
<use href="#i-met" x="563.3" y="117.8" width="19.5" height="19.5" color="#582458" opacity="1"/>
<use href="#i-gut" x="88.3" y="379.0" width="12.5" height="19" color="#3F6F78" opacity="0.85"/>
<use href="#i-gut" x="215.8" y="381.2" width="13" height="19.5" color="#3F6F78" opacity="0.85"/>
<use href="#i-human" x="423.1" y="300.3" width="14.5" height="24" color="#4A8F77" opacity="1"/>
<use href="#i-human" x="540.8" y="380.8" width="14.5" height="22.5" color="#4A8F77" opacity="1"/>
<use href="#i-liver" x="135.6" y="514.0" width="19.5" height="16" color="#3678A1" opacity="1"/>
<use href="#i-liver" x="246.6" y="512.4" width="19.5" height="16.5" color="#3678A1" opacity="1"/>
<use href="#i-virus" x="364.5" y="507.3" width="20" height="20" color="#F28A63" opacity="1"/>
<use href="#i-virus" x="510.0" y="504.0" width="20" height="20" color="#F28A63" opacity="1"/>
<use href="#i-met" x="123.5" y="632.5" width="19" height="19" color="#582458" opacity="1"/>
<use href="#i-met" x="282.2" y="633.1" width="17.5" height="18.5" color="#582458" opacity="1"/>
</svg></body></html>
